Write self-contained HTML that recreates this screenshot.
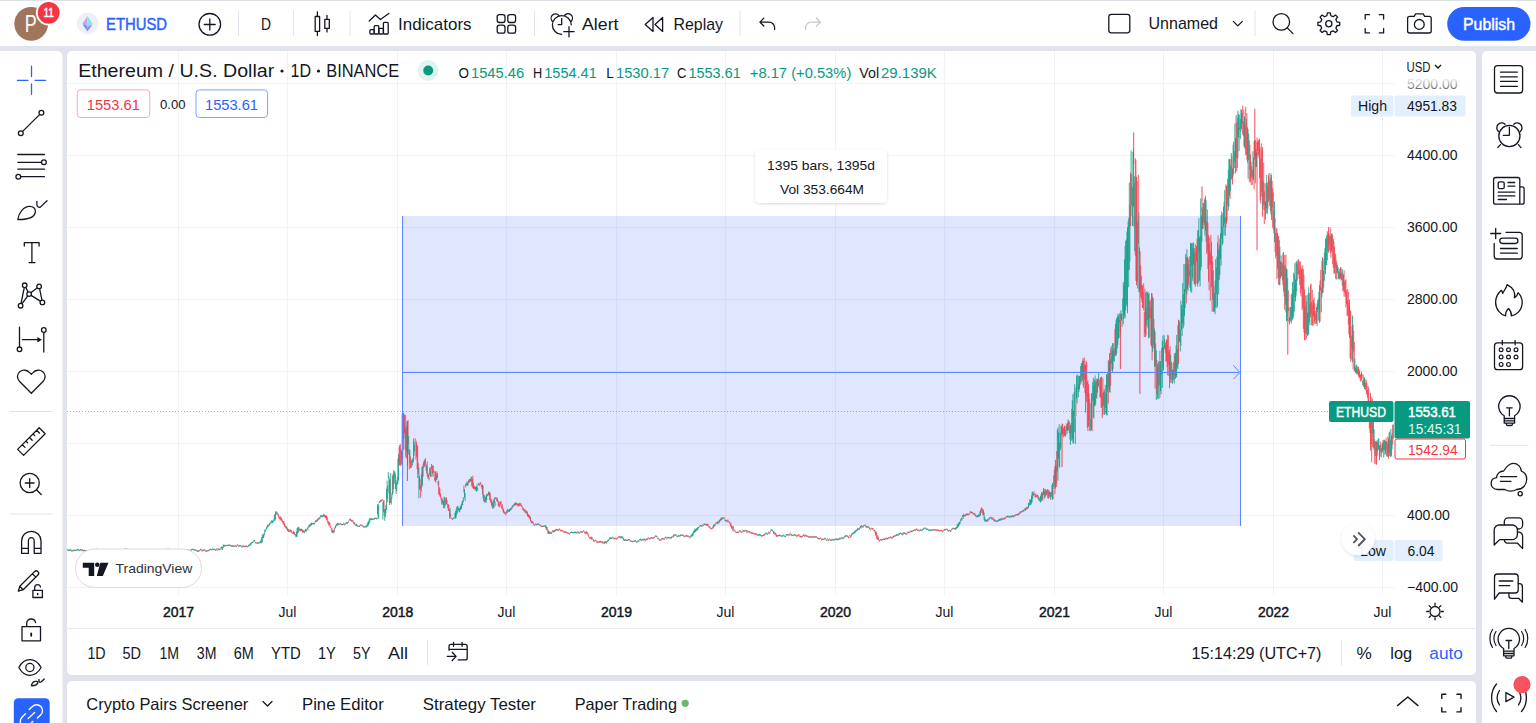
<!DOCTYPE html>
<html><head><meta charset="utf-8"><style>
html,body{margin:0;padding:0;width:1536px;height:723px;overflow:hidden;background:#e0e3eb}
svg{display:block;font-family:"Liberation Sans", sans-serif}
</style></head><body>
<svg width="1536" height="723" viewBox="0 0 1536 723" fill="none">
<defs><linearGradient id="fade" x1="0" y1="0" x2="0" y2="1"><stop offset="0" stop-color="#fff" stop-opacity="0.95"/><stop offset="1" stop-color="#fff" stop-opacity="0.3"/></linearGradient><filter id="sh" x="-20%" y="-30%" width="140%" height="160%"><feDropShadow dx="0" dy="1" stdDeviation="1.5" flood-color="#000" flood-opacity="0.15"/></filter></defs>
<rect x="0" y="0" width="1536" height="723" fill="#e0e3eb"/>
<rect x="0" y="0" width="1536" height="46" fill="#ffffff"/>
<rect x="0" y="0" width="1536" height="1" fill="#dde0e4"/>
<path d="M0 51H57.5a5 5 0 0 1 5 5V723H0Z" fill="#fff"/>
<rect x="67" y="51" width="1409" height="624" rx="5" fill="#fff"/>
<path d="M72 681H1471a5 5 0 0 1 5 5V723H67V686a5 5 0 0 1 5-5Z" fill="#fff"/>
<path d="M1487 51H1536V723H1482V56a5 5 0 0 1 5-5Z" fill="#fff"/>
<path d="M67 83.5H1394.5M67 155.5H1394.5M67 227.5H1394.5M67 299.5H1394.5M67 371.5H1394.5M67 443.5H1394.5M67 515.5H1394.5M67 587.5H1394.5M178.5 51V588M178.5 588V595M287.5 51V588M287.5 588V595M397.5 51V588M397.5 588V595M506.5 51V588M506.5 588V595M616.5 51V588M616.5 588V595M725.5 51V588M725.5 588V595M835.5 51V588M835.5 588V595M944.5 51V588M944.5 588V595M1054.5 51V588M1054.5 588V595M1163.5 51V588M1163.5 588V595M1273.5 51V588M1273.5 588V595M1382.5 51V588M1382.5 588V595" stroke="#f1f2f3" stroke-width="1" fill="none"/>
<rect x="67" y="628" width="1409" height="1" fill="#e8eaef"/>
<rect x="402" y="216" width="838.5" height="310" fill="#4a6cf7" fill-opacity="0.17"/>
<path d="M67.3 549.5V550.7M67.9 549.3V550.5" stroke="#f23645" stroke-width="0.8"/>
<path d="M68.5 549.8V551.0M69.1 549.8V551.0" stroke="#089981" stroke-width="0.8"/>
<path d="M69.7 549.6V550.8" stroke="#f23645" stroke-width="0.8"/>
<path d="M70.3 549.6V550.8M70.9 548.8V550.0M71.5 550.2V551.4" stroke="#089981" stroke-width="0.8"/>
<path d="M72.1 550.2V551.4M72.7 550.2V551.4" stroke="#f23645" stroke-width="0.8"/>
<path d="M73.3 550.3V551.5" stroke="#089981" stroke-width="0.8"/>
<path d="M73.9 549.4V550.6" stroke="#f23645" stroke-width="0.8"/>
<path d="M74.5 549.7V550.9M75.1 549.7V550.9" stroke="#089981" stroke-width="0.8"/>
<path d="M75.7 549.9V551.1M76.3 549.3V550.5" stroke="#f23645" stroke-width="0.8"/>
<path d="M76.9 550.0V551.2" stroke="#089981" stroke-width="0.8"/>
<path d="M77.5 548.8V550.0" stroke="#f23645" stroke-width="0.8"/>
<path d="M78.1 549.5V550.7M78.7 548.9V550.1M79.3 549.8V551.0" stroke="#089981" stroke-width="0.8"/>
<path d="M79.9 550.2V551.4M80.5 549.1V550.3" stroke="#f23645" stroke-width="0.8"/>
<path d="M81.1 549.0V550.2M81.7 549.7V550.9M82.3 549.3V550.5M82.9 550.0V551.2" stroke="#089981" stroke-width="0.8"/>
<path d="M83.5 550.2V551.4M84.1 549.9V551.1M84.7 549.7V550.9" stroke="#f23645" stroke-width="0.8"/>
<path d="M85.3 550.2V551.4M85.9 550.3V551.5M86.5 550.3V551.5" stroke="#089981" stroke-width="0.8"/>
<path d="M87.1 550.1V551.3" stroke="#f23645" stroke-width="0.8"/>
<path d="M87.7 550.0V551.2" stroke="#089981" stroke-width="0.8"/>
<path d="M88.3 550.7V551.9" stroke="#f23645" stroke-width="0.8"/>
<path d="M88.9 550.4V551.6M89.5 550.5V551.7" stroke="#089981" stroke-width="0.8"/>
<path d="M90.1 550.2V551.4M90.7 549.8V551.0" stroke="#f23645" stroke-width="0.8"/>
<path d="M91.3 549.7V550.9" stroke="#089981" stroke-width="0.8"/>
<path d="M91.9 550.2V551.4M92.5 550.4V551.6M93.1 549.1V550.3" stroke="#f23645" stroke-width="0.8"/>
<path d="M93.7 549.1V550.3" stroke="#089981" stroke-width="0.8"/>
<path d="M94.3 549.3V550.5M94.9 550.9V552.1" stroke="#f23645" stroke-width="0.8"/>
<path d="M95.5 549.8V551.0" stroke="#089981" stroke-width="0.8"/>
<path d="M96.1 548.9V550.1M96.7 548.6V549.8M97.3 549.8V551.0M97.9 549.1V550.3" stroke="#f23645" stroke-width="0.8"/>
<path d="M98.5 550.0V551.2M99.1 549.7V550.9M99.7 550.2V551.4" stroke="#089981" stroke-width="0.8"/>
<path d="M100.3 549.8V551.0M100.9 549.8V551.0M101.5 549.9V551.1" stroke="#f23645" stroke-width="0.8"/>
<path d="M102.1 550.1V551.3" stroke="#089981" stroke-width="0.8"/>
<path d="M102.7 549.4V550.6" stroke="#f23645" stroke-width="0.8"/>
<path d="M103.3 550.3V551.5" stroke="#089981" stroke-width="0.8"/>
<path d="M103.9 551.0V552.2M104.5 550.2V551.4" stroke="#f23645" stroke-width="0.8"/>
<path d="M105.1 549.9V551.1" stroke="#089981" stroke-width="0.8"/>
<path d="M105.7 550.4V551.6M106.3 550.5V551.7" stroke="#f23645" stroke-width="0.8"/>
<path d="M106.9 550.9V552.1" stroke="#089981" stroke-width="0.8"/>
<path d="M107.5 551.0V552.2M108.1 551.1V552.3M108.7 550.4V551.6M109.3 549.0V550.2" stroke="#f23645" stroke-width="0.8"/>
<path d="M109.9 549.5V550.7M110.5 549.8V551.0M111.1 549.3V550.5M111.7 549.9V551.1M112.3 548.8V550.0M112.9 549.3V550.5" stroke="#089981" stroke-width="0.8"/>
<path d="M113.5 550.9V552.1" stroke="#f23645" stroke-width="0.8"/>
<path d="M114.1 549.9V551.1M114.7 550.0V551.2" stroke="#089981" stroke-width="0.8"/>
<path d="M115.3 550.2V551.4M115.9 550.0V551.2" stroke="#f23645" stroke-width="0.8"/>
<path d="M116.5 550.5V551.7M117.1 550.4V551.6M117.7 550.6V551.8" stroke="#089981" stroke-width="0.8"/>
<path d="M118.3 549.9V551.1" stroke="#f23645" stroke-width="0.8"/>
<path d="M118.9 549.3V550.5" stroke="#089981" stroke-width="0.8"/>
<path d="M119.5 549.2V550.4" stroke="#f23645" stroke-width="0.8"/>
<path d="M120.1 550.5V551.7" stroke="#089981" stroke-width="0.8"/>
<path d="M120.7 550.6V551.8" stroke="#f23645" stroke-width="0.8"/>
<path d="M121.3 549.7V550.9M121.9 549.6V550.8" stroke="#089981" stroke-width="0.8"/>
<path d="M122.5 549.8V551.0" stroke="#f23645" stroke-width="0.8"/>
<path d="M123.1 549.3V550.5M123.7 549.2V550.4M124.3 549.1V550.3M124.9 548.2V549.4" stroke="#089981" stroke-width="0.8"/>
<path d="M125.5 548.8V550.0" stroke="#f23645" stroke-width="0.8"/>
<path d="M126.1 549.1V550.3M126.7 548.2V549.4M127.3 549.0V550.2" stroke="#089981" stroke-width="0.8"/>
<path d="M127.9 549.5V550.7" stroke="#f23645" stroke-width="0.8"/>
<path d="M128.5 549.3V550.5" stroke="#089981" stroke-width="0.8"/>
<path d="M129.1 550.0V551.2" stroke="#f23645" stroke-width="0.8"/>
<path d="M129.7 550.0V551.2M130.3 551.0V552.2M130.9 551.0V552.2M131.5 551.0V552.2" stroke="#089981" stroke-width="0.8"/>
<path d="M132.1 550.3V551.5M132.7 550.9V552.1M133.3 550.2V551.4M133.9 550.5V551.7M134.5 551.0V552.2M135.1 549.9V551.1M135.7 550.4V551.6M136.3 549.3V550.5" stroke="#f23645" stroke-width="0.8"/>
<path d="M136.9 549.5V550.7" stroke="#089981" stroke-width="0.8"/>
<path d="M137.5 550.1V551.3M138.1 550.0V551.2M138.7 549.9V551.1" stroke="#f23645" stroke-width="0.8"/>
<path d="M139.3 549.7V550.9M139.9 549.6V550.8M140.5 549.2V550.4" stroke="#089981" stroke-width="0.8"/>
<path d="M141.1 549.4V550.6M141.7 549.6V550.8" stroke="#f23645" stroke-width="0.8"/>
<path d="M142.3 550.1V551.3" stroke="#089981" stroke-width="0.8"/>
<path d="M142.9 549.5V550.7" stroke="#f23645" stroke-width="0.8"/>
<path d="M143.5 549.0V550.2" stroke="#089981" stroke-width="0.8"/>
<path d="M144.1 549.4V550.6" stroke="#f23645" stroke-width="0.8"/>
<path d="M144.7 549.4V550.6M145.3 549.2V550.4" stroke="#089981" stroke-width="0.8"/>
<path d="M145.9 549.5V550.7M146.5 549.9V551.1M147.1 549.9V551.1" stroke="#f23645" stroke-width="0.8"/>
<path d="M147.7 549.9V551.1M148.3 549.7V550.9M148.9 549.3V550.5M149.5 550.5V551.7M150.1 550.6V551.8" stroke="#089981" stroke-width="0.8"/>
<path d="M150.7 550.3V551.5" stroke="#f23645" stroke-width="0.8"/>
<path d="M151.3 550.0V551.2" stroke="#089981" stroke-width="0.8"/>
<path d="M151.9 550.1V551.3" stroke="#f23645" stroke-width="0.8"/>
<path d="M152.5 549.6V550.8" stroke="#089981" stroke-width="0.8"/>
<path d="M153.1 549.8V551.0M153.7 550.5V551.7" stroke="#f23645" stroke-width="0.8"/>
<path d="M154.3 550.1V551.3" stroke="#089981" stroke-width="0.8"/>
<path d="M154.9 549.9V551.1" stroke="#f23645" stroke-width="0.8"/>
<path d="M155.5 550.0V551.2" stroke="#089981" stroke-width="0.8"/>
<path d="M156.1 550.5V551.7" stroke="#f23645" stroke-width="0.8"/>
<path d="M156.7 550.2V551.4M157.3 550.1V551.3" stroke="#089981" stroke-width="0.8"/>
<path d="M157.9 551.5V552.7" stroke="#f23645" stroke-width="0.8"/>
<path d="M158.5 550.8V552.0M159.1 550.6V551.8M159.7 550.6V551.8M160.3 549.8V551.0" stroke="#089981" stroke-width="0.8"/>
<path d="M160.9 549.9V551.1" stroke="#f23645" stroke-width="0.8"/>
<path d="M161.5 550.1V551.3" stroke="#089981" stroke-width="0.8"/>
<path d="M162.1 549.4V550.6" stroke="#f23645" stroke-width="0.8"/>
<path d="M162.7 550.0V551.2" stroke="#089981" stroke-width="0.8"/>
<path d="M163.3 550.5V551.7M163.9 549.8V551.0" stroke="#f23645" stroke-width="0.8"/>
<path d="M164.5 550.3V551.5" stroke="#089981" stroke-width="0.8"/>
<path d="M165.1 550.1V551.3" stroke="#f23645" stroke-width="0.8"/>
<path d="M165.7 549.5V550.7" stroke="#089981" stroke-width="0.8"/>
<path d="M166.3 548.8V550.0" stroke="#f23645" stroke-width="0.8"/>
<path d="M166.9 549.2V550.4" stroke="#089981" stroke-width="0.8"/>
<path d="M167.5 549.0V550.2" stroke="#f23645" stroke-width="0.8"/>
<path d="M168.1 548.3V549.5M168.7 548.9V550.1" stroke="#089981" stroke-width="0.8"/>
<path d="M169.3 549.8V551.0" stroke="#f23645" stroke-width="0.8"/>
<path d="M169.9 549.6V550.8M170.5 549.7V550.9M171.1 549.8V551.0M171.7 550.0V551.2M172.3 550.1V551.3" stroke="#089981" stroke-width="0.8"/>
<path d="M172.9 549.7V550.9" stroke="#f23645" stroke-width="0.8"/>
<path d="M173.5 549.8V551.0M174.1 549.5V550.7M174.7 550.6V551.8M175.3 550.9V552.1M175.9 550.9V552.1" stroke="#089981" stroke-width="0.8"/>
<path d="M176.5 551.4V552.6" stroke="#f23645" stroke-width="0.8"/>
<path d="M177.1 550.4V551.6" stroke="#089981" stroke-width="0.8"/>
<path d="M177.7 550.4V551.6" stroke="#f23645" stroke-width="0.8"/>
<path d="M178.3 549.9V551.1" stroke="#089981" stroke-width="0.8"/>
<path d="M178.9 549.6V550.8" stroke="#f23645" stroke-width="0.8"/>
<path d="M179.5 550.6V551.8M180.1 550.6V551.8" stroke="#089981" stroke-width="0.8"/>
<path d="M180.7 549.7V550.9" stroke="#f23645" stroke-width="0.8"/>
<path d="M181.3 549.8V551.0M181.9 549.9V551.1" stroke="#089981" stroke-width="0.8"/>
<path d="M182.5 549.9V551.1" stroke="#f23645" stroke-width="0.8"/>
<path d="M183.1 549.9V551.1M183.7 549.9V551.1" stroke="#089981" stroke-width="0.8"/>
<path d="M184.3 550.4V551.6" stroke="#f23645" stroke-width="0.8"/>
<path d="M184.9 550.5V551.7" stroke="#089981" stroke-width="0.8"/>
<path d="M185.5 550.5V551.7M186.1 549.5V550.7M186.7 550.1V551.3" stroke="#f23645" stroke-width="0.8"/>
<path d="M187.3 549.6V550.8M187.9 549.5V550.7M188.5 549.7V550.9" stroke="#089981" stroke-width="0.8"/>
<path d="M189.1 549.8V551.0" stroke="#f23645" stroke-width="0.8"/>
<path d="M189.7 549.9V551.1M190.3 550.1V551.3" stroke="#089981" stroke-width="0.8"/>
<path d="M190.9 549.4V550.6" stroke="#f23645" stroke-width="0.8"/>
<path d="M191.5 549.0V550.2" stroke="#089981" stroke-width="0.8"/>
<path d="M192.1 548.8V550.0" stroke="#f23645" stroke-width="0.8"/>
<path d="M192.7 548.8V550.0M193.3 549.0V550.2M193.9 548.9V550.1M194.5 549.4V550.6" stroke="#089981" stroke-width="0.8"/>
<path d="M195.1 549.5V550.7M195.7 549.6V550.8" stroke="#f23645" stroke-width="0.8"/>
<path d="M196.3 550.1V551.3" stroke="#089981" stroke-width="0.8"/>
<path d="M196.9 549.8V551.0M197.5 550.7V551.9" stroke="#f23645" stroke-width="0.8"/>
<path d="M198.1 550.5V551.7M198.7 550.6V551.8M199.3 550.0V551.2" stroke="#089981" stroke-width="0.8"/>
<path d="M199.9 549.9V551.1M200.5 548.8V550.0M201.1 549.4V550.6" stroke="#f23645" stroke-width="0.8"/>
<path d="M201.7 549.1V550.3M202.3 550.4V551.6" stroke="#089981" stroke-width="0.8"/>
<path d="M202.9 550.0V551.2M203.5 549.7V550.9" stroke="#f23645" stroke-width="0.8"/>
<path d="M204.1 549.2V550.4" stroke="#089981" stroke-width="0.8"/>
<path d="M204.7 549.4V550.6" stroke="#f23645" stroke-width="0.8"/>
<path d="M205.3 550.4V551.6M205.9 550.2V551.4" stroke="#089981" stroke-width="0.8"/>
<path d="M206.5 550.7V551.9" stroke="#f23645" stroke-width="0.8"/>
<path d="M207.1 550.5V551.7" stroke="#089981" stroke-width="0.8"/>
<path d="M207.7 550.1V551.3M208.3 550.0V551.2" stroke="#f23645" stroke-width="0.8"/>
<path d="M208.9 549.7V550.9M209.5 549.3V550.5M210.1 548.7V549.9" stroke="#089981" stroke-width="0.8"/>
<path d="M210.7 549.0V550.2M211.3 549.0V550.2M211.9 549.0V550.2" stroke="#f23645" stroke-width="0.8"/>
<path d="M212.5 548.4V549.6M213.1 549.0V550.2" stroke="#089981" stroke-width="0.8"/>
<path d="M213.7 548.8V550.0" stroke="#f23645" stroke-width="0.8"/>
<path d="M214.3 548.8V550.0M214.9 549.1V550.3M215.5 549.6V550.8" stroke="#089981" stroke-width="0.8"/>
<path d="M216.1 549.2V550.4" stroke="#f23645" stroke-width="0.8"/>
<path d="M216.7 548.4V549.6" stroke="#089981" stroke-width="0.8"/>
<path d="M217.3 549.6V550.8M217.9 548.1V549.3M218.5 548.9V550.1" stroke="#f23645" stroke-width="0.8"/>
<path d="M219.1 548.6V549.8" stroke="#089981" stroke-width="0.8"/>
<path d="M219.7 549.0V550.2M220.3 548.6V549.8" stroke="#f23645" stroke-width="0.8"/>
<path d="M220.9 547.4V548.6" stroke="#089981" stroke-width="0.8"/>
<path d="M221.5 546.6V548.2" stroke="#f23645" stroke-width="0.8"/>
<path d="M222.1 546.9V550.1M222.7 546.6V549.5M223.3 544.8V547.7M223.9 544.3V546.6M224.5 545.1V546.4M225.1 545.0V546.2" stroke="#089981" stroke-width="0.8"/>
<path d="M225.7 545.0V546.2M226.3 544.8V546.0M226.9 544.8V546.0M227.5 545.1V546.3" stroke="#f23645" stroke-width="0.8"/>
<path d="M228.1 544.8V546.0M228.7 544.7V545.9" stroke="#089981" stroke-width="0.8"/>
<path d="M229.3 544.7V545.9M229.9 544.5V545.7M230.5 545.1V546.3" stroke="#f23645" stroke-width="0.8"/>
<path d="M231.1 545.6V546.8" stroke="#089981" stroke-width="0.8"/>
<path d="M231.7 545.2V546.4M232.3 545.1V546.3" stroke="#f23645" stroke-width="0.8"/>
<path d="M232.9 545.8V547.0" stroke="#089981" stroke-width="0.8"/>
<path d="M233.5 545.3V546.5" stroke="#f23645" stroke-width="0.8"/>
<path d="M234.1 545.8V547.0" stroke="#089981" stroke-width="0.8"/>
<path d="M234.7 545.5V546.7" stroke="#f23645" stroke-width="0.8"/>
<path d="M235.3 545.1V546.3" stroke="#089981" stroke-width="0.8"/>
<path d="M235.9 545.6V546.8M236.5 545.7V546.9" stroke="#f23645" stroke-width="0.8"/>
<path d="M237.1 544.7V545.9" stroke="#089981" stroke-width="0.8"/>
<path d="M237.7 544.2V545.4" stroke="#f23645" stroke-width="0.8"/>
<path d="M238.3 545.5V546.7M238.9 545.5V546.7M239.5 545.0V546.2" stroke="#089981" stroke-width="0.8"/>
<path d="M240.1 544.9V546.1" stroke="#f23645" stroke-width="0.8"/>
<path d="M240.7 545.4V546.6" stroke="#089981" stroke-width="0.8"/>
<path d="M241.3 545.4V546.6M241.9 546.5V547.7" stroke="#f23645" stroke-width="0.8"/>
<path d="M242.5 546.0V547.2M243.1 544.8V546.0M243.7 546.0V547.2" stroke="#089981" stroke-width="0.8"/>
<path d="M244.3 545.9V547.1M244.9 545.9V547.1M245.5 546.0V547.2M246.1 545.2V546.4M246.7 545.9V547.1" stroke="#f23645" stroke-width="0.8"/>
<path d="M247.3 545.9V547.2" stroke="#089981" stroke-width="0.8"/>
<path d="M247.9 546.1V547.3" stroke="#f23645" stroke-width="0.8"/>
<path d="M248.5 544.9V546.7M249.1 544.8V546.0M249.7 544.0V545.5M250.3 543.1V545.4M250.9 542.8V545.5" stroke="#089981" stroke-width="0.8"/>
<path d="M251.5 542.0V543.7M252.1 541.8V543.2" stroke="#f23645" stroke-width="0.8"/>
<path d="M252.7 541.9V543.1M253.3 541.1V542.3" stroke="#089981" stroke-width="0.8"/>
<path d="M253.9 540.0V541.2" stroke="#f23645" stroke-width="0.8"/>
<path d="M254.5 540.0V541.2M255.1 541.3V542.6M255.7 542.1V543.3" stroke="#089981" stroke-width="0.8"/>
<path d="M256.3 542.5V543.7M256.9 541.9V543.1" stroke="#f23645" stroke-width="0.8"/>
<path d="M257.5 542.6V543.8M258.1 542.6V543.8M258.7 542.2V543.5M259.3 542.4V543.6" stroke="#089981" stroke-width="0.8"/>
<path d="M259.9 541.4V542.6" stroke="#f23645" stroke-width="0.8"/>
<path d="M260.5 541.0V543.2M261.1 539.1V542.6M261.7 537.0V543.3M262.3 535.2V542.2M262.9 533.7V537.8M263.5 534.5V538.3" stroke="#089981" stroke-width="0.8"/>
<path d="M264.1 533.5V536.5" stroke="#f23645" stroke-width="0.8"/>
<path d="M264.7 529.7V534.5M265.3 529.9V531.9M265.9 528.7V529.9M266.5 527.1V529.5M267.1 526.0V528.3M267.7 524.6V527.4" stroke="#089981" stroke-width="0.8"/>
<path d="M268.3 524.9V526.5" stroke="#f23645" stroke-width="0.8"/>
<path d="M268.9 524.3V526.9M269.5 523.2V525.2M270.1 523.4V524.7M270.7 522.0V523.6M271.3 520.9V523.2M271.9 519.9V522.3M272.5 521.0V523.0M273.1 520.2V522.8M273.7 519.5V520.8M274.3 514.6V520.7M274.9 514.4V520.8" stroke="#089981" stroke-width="0.8"/>
<path d="M275.5 511.5V519.6" stroke="#f23645" stroke-width="0.8"/>
<path d="M276.1 511.1V514.6M276.7 512.1V514.2" stroke="#089981" stroke-width="0.8"/>
<path d="M277.3 512.5V514.5M277.9 513.6V515.9M278.5 514.5V516.8M279.1 515.6V518.7M279.7 517.0V519.3M280.3 516.3V520.4M280.9 517.1V520.4M281.5 518.2V520.6M282.1 519.4V522.3M282.7 520.6V522.9M283.3 521.6V524.5M283.9 521.0V525.0M284.5 523.1V526.8M285.1 524.4V525.7M285.7 525.6V527.9" stroke="#f23645" stroke-width="0.8"/>
<path d="M286.3 526.0V528.7" stroke="#089981" stroke-width="0.8"/>
<path d="M286.9 527.0V529.9M287.5 528.3V530.9M288.1 528.7V531.4M288.7 529.4V532.0M289.3 529.5V531.7" stroke="#f23645" stroke-width="0.8"/>
<path d="M289.9 530.7V531.9M290.5 529.6V531.7" stroke="#089981" stroke-width="0.8"/>
<path d="M291.1 529.7V532.4M291.7 530.5V532.9M292.3 532.2V533.5M292.9 532.4V533.6M293.5 530.9V534.0M294.1 531.7V534.6M294.7 532.2V534.9" stroke="#f23645" stroke-width="0.8"/>
<path d="M295.3 534.0V536.1M295.9 535.3V537.3M296.5 531.3V536.6M297.1 528.1V537.0M297.7 527.5V533.3M298.3 526.8V532.8M298.9 527.3V530.8M299.5 528.7V530.3" stroke="#089981" stroke-width="0.8"/>
<path d="M300.1 528.8V531.3M300.7 528.8V531.2M301.3 528.6V531.2" stroke="#f23645" stroke-width="0.8"/>
<path d="M301.9 529.0V530.4" stroke="#089981" stroke-width="0.8"/>
<path d="M302.5 529.7V532.5" stroke="#f23645" stroke-width="0.8"/>
<path d="M303.1 529.9V532.5" stroke="#089981" stroke-width="0.8"/>
<path d="M303.7 530.8V532.1" stroke="#f23645" stroke-width="0.8"/>
<path d="M304.3 530.6V533.3" stroke="#089981" stroke-width="0.8"/>
<path d="M304.9 530.4V531.8" stroke="#f23645" stroke-width="0.8"/>
<path d="M305.5 528.7V531.0M306.1 529.7V532.3M306.7 529.2V530.7M307.3 527.8V529.4" stroke="#089981" stroke-width="0.8"/>
<path d="M307.9 526.8V530.3" stroke="#f23645" stroke-width="0.8"/>
<path d="M308.5 525.9V527.4M309.1 524.7V526.4M309.7 524.6V527.4" stroke="#089981" stroke-width="0.8"/>
<path d="M310.3 523.4V526.2" stroke="#f23645" stroke-width="0.8"/>
<path d="M310.9 524.1V525.9M311.5 522.6V525.1M312.1 523.1V524.7M312.7 522.9V524.1M313.3 522.9V524.4M313.9 522.6V524.4M314.5 523.0V524.4" stroke="#089981" stroke-width="0.8"/>
<path d="M315.1 521.0V522.3M315.7 520.3V522.2" stroke="#f23645" stroke-width="0.8"/>
<path d="M316.3 520.2V522.3M316.9 519.6V521.1M317.5 519.1V521.3" stroke="#089981" stroke-width="0.8"/>
<path d="M318.1 518.0V519.2M318.7 517.8V520.0M319.3 517.3V519.4M319.9 516.7V518.9" stroke="#f23645" stroke-width="0.8"/>
<path d="M320.5 515.4V516.9M321.1 515.5V517.5M321.7 515.1V516.9M322.3 515.0V517.1M322.9 515.6V516.8M323.5 514.1V516.4M324.1 514.5V516.1" stroke="#089981" stroke-width="0.8"/>
<path d="M324.7 514.7V517.2M325.3 515.4V518.1M325.9 515.0V518.3M326.5 515.8V520.4M327.1 516.9V518.9M327.7 518.2V523.0M328.3 521.2V524.5M328.9 521.5V525.9" stroke="#f23645" stroke-width="0.8"/>
<path d="M329.5 522.5V524.9" stroke="#089981" stroke-width="0.8"/>
<path d="M330.1 523.7V527.3M330.7 526.1V528.1M331.3 528.4V530.6M331.9 527.8V532.6" stroke="#f23645" stroke-width="0.8"/>
<path d="M332.5 530.4V533.0M333.1 530.9V532.1" stroke="#089981" stroke-width="0.8"/>
<path d="M333.7 529.6V533.3M334.3 528.4V532.1" stroke="#f23645" stroke-width="0.8"/>
<path d="M334.9 527.1V528.9M335.5 525.6V528.1M336.1 524.5V526.4M336.7 523.7V525.8M337.3 523.1V525.8" stroke="#089981" stroke-width="0.8"/>
<path d="M337.9 522.8V525.1" stroke="#f23645" stroke-width="0.8"/>
<path d="M338.5 523.4V524.8" stroke="#089981" stroke-width="0.8"/>
<path d="M339.1 523.6V524.9M339.7 523.6V524.8" stroke="#f23645" stroke-width="0.8"/>
<path d="M340.3 522.7V523.9M340.9 523.6V524.8M341.5 523.9V525.1M342.1 523.9V525.2" stroke="#089981" stroke-width="0.8"/>
<path d="M342.7 524.0V525.3" stroke="#f23645" stroke-width="0.8"/>
<path d="M343.3 523.8V525.0M343.9 522.7V523.9M344.5 524.2V525.4M345.1 523.6V524.8" stroke="#089981" stroke-width="0.8"/>
<path d="M345.7 522.7V524.2" stroke="#f23645" stroke-width="0.8"/>
<path d="M346.3 522.1V523.3" stroke="#089981" stroke-width="0.8"/>
<path d="M346.9 521.9V524.0" stroke="#f23645" stroke-width="0.8"/>
<path d="M347.5 522.3V523.6M348.1 521.9V523.1M348.7 520.8V522.0" stroke="#089981" stroke-width="0.8"/>
<path d="M349.3 519.2V520.5" stroke="#f23645" stroke-width="0.8"/>
<path d="M349.9 518.6V520.2" stroke="#089981" stroke-width="0.8"/>
<path d="M350.5 518.9V520.6M351.1 519.8V521.3M351.7 519.7V521.6M352.3 520.2V521.7" stroke="#f23645" stroke-width="0.8"/>
<path d="M352.9 520.3V522.0" stroke="#089981" stroke-width="0.8"/>
<path d="M353.5 521.7V523.7M354.1 523.4V524.7M354.7 522.0V524.3M355.3 524.6V525.8" stroke="#f23645" stroke-width="0.8"/>
<path d="M355.9 523.8V525.6M356.5 524.0V526.1M357.1 524.7V526.2" stroke="#089981" stroke-width="0.8"/>
<path d="M357.7 525.7V526.9" stroke="#f23645" stroke-width="0.8"/>
<path d="M358.3 525.8V527.0" stroke="#089981" stroke-width="0.8"/>
<path d="M358.9 525.9V527.1" stroke="#f23645" stroke-width="0.8"/>
<path d="M359.5 525.6V526.8M360.1 524.6V525.8M360.7 524.6V525.8" stroke="#089981" stroke-width="0.8"/>
<path d="M361.3 524.5V525.7M361.9 525.0V526.2" stroke="#f23645" stroke-width="0.8"/>
<path d="M362.5 525.2V526.4" stroke="#089981" stroke-width="0.8"/>
<path d="M363.1 525.8V527.1M363.7 526.4V527.6" stroke="#f23645" stroke-width="0.8"/>
<path d="M364.3 526.3V527.6M364.9 526.0V527.2M365.5 525.7V526.9" stroke="#089981" stroke-width="0.8"/>
<path d="M366.1 526.6V527.8" stroke="#f23645" stroke-width="0.8"/>
<path d="M366.7 525.0V527.3M367.3 523.4V526.4M367.9 521.8V526.6M368.5 521.5V525.1M369.1 519.5V523.5M369.7 518.2V523.2M370.3 518.2V520.3M370.9 518.3V520.2M371.5 518.5V520.1M372.1 518.2V519.4M372.7 518.8V520.0M373.3 518.4V519.6M373.9 518.7V519.9M374.5 517.9V519.2" stroke="#089981" stroke-width="0.8"/>
<path d="M375.1 517.7V519.0" stroke="#f23645" stroke-width="0.8"/>
<path d="M375.7 517.8V519.0M376.3 517.7V518.9M376.9 518.4V519.6M377.5 504.3V514.4M378.1 505.8V519.1M378.7 503.5V518.3" stroke="#089981" stroke-width="0.8"/>
<path d="M379.3 500.9V502.9" stroke="#f23645" stroke-width="0.8"/>
<path d="M379.9 501.3V502.5" stroke="#089981" stroke-width="0.8"/>
<path d="M380.5 500.5V502.1" stroke="#f23645" stroke-width="0.8"/>
<path d="M381.1 499.6V501.8" stroke="#089981" stroke-width="0.8"/>
<path d="M381.7 499.8V501.3M382.3 499.2V500.9" stroke="#f23645" stroke-width="0.8"/>
<path d="M382.9 502.0V519.6" stroke="#089981" stroke-width="0.8"/>
<path d="M383.5 500.5V511.9M384.1 500.2V515.2" stroke="#f23645" stroke-width="0.8"/>
<path d="M384.7 509.3V520.7M385.3 508.8V517.0M385.9 504.8V513.6M386.5 488.8V510.1M387.1 480.6V498.5M387.7 485.7V502.3M388.3 472.2V478.6M388.9 476.2V493.3" stroke="#089981" stroke-width="0.8"/>
<path d="M389.5 479.3V505.0M390.1 479.4V503.1" stroke="#f23645" stroke-width="0.8"/>
<path d="M390.7 473.0V503.0" stroke="#089981" stroke-width="0.8"/>
<path d="M391.3 497.1V504.7" stroke="#f23645" stroke-width="0.8"/>
<path d="M391.9 493.3V498.5M392.5 475.5V494.9" stroke="#089981" stroke-width="0.8"/>
<path d="M393.1 473.6V493.3" stroke="#f23645" stroke-width="0.8"/>
<path d="M393.7 470.3V489.1M394.3 471.2V483.8M394.9 471.8V477.9" stroke="#089981" stroke-width="0.8"/>
<path d="M395.5 474.2V489.3" stroke="#f23645" stroke-width="0.8"/>
<path d="M396.1 480.2V494.0M396.7 482.8V491.4M397.3 477.0V484.4M397.9 458.7V484.3M398.5 454.1V480.6" stroke="#089981" stroke-width="0.8"/>
<path d="M399.1 447.1V464.7" stroke="#f23645" stroke-width="0.8"/>
<path d="M399.7 445.0V465.5" stroke="#089981" stroke-width="0.8"/>
<path d="M400.3 444.1V466.4M400.9 448.7V464.2M401.5 450.9V464.8" stroke="#f23645" stroke-width="0.8"/>
<path d="M402.1 413.7V459.1M402.7 411.6V458.1M403.3 413.0V449.7M403.9 413.2V439.0" stroke="#089981" stroke-width="0.8"/>
<path d="M404.5 415.0V433.6M405.1 428.4V450.1M405.7 415.1V456.9M406.3 426.9V458.4" stroke="#f23645" stroke-width="0.8"/>
<path d="M406.9 421.4V452.5" stroke="#089981" stroke-width="0.8"/>
<path d="M407.5 420.8V464.9M408.1 420.2V444.2" stroke="#f23645" stroke-width="0.8"/>
<path d="M408.7 435.9V454.6" stroke="#089981" stroke-width="0.8"/>
<path d="M409.3 449.4V469.4" stroke="#f23645" stroke-width="0.8"/>
<path d="M409.9 449.9V463.4" stroke="#089981" stroke-width="0.8"/>
<path d="M410.5 456.6V468.1M411.1 464.2V468.0" stroke="#f23645" stroke-width="0.8"/>
<path d="M411.7 459.9V466.6M412.3 459.1V465.3M412.9 457.9V463.2M413.5 438.5V461.5M414.1 445.0V455.8M414.7 441.4V451.2" stroke="#089981" stroke-width="0.8"/>
<path d="M415.3 438.2V440.7M415.9 440.1V459.5M416.5 442.2V456.7M417.1 444.7V469.1M417.7 445.9V478.1M418.3 463.1V473.6" stroke="#f23645" stroke-width="0.8"/>
<path d="M418.9 467.7V498.3" stroke="#089981" stroke-width="0.8"/>
<path d="M419.5 475.7V489.6M420.1 478.9V488.8M420.7 485.6V497.7M421.3 474.2V491.5" stroke="#f23645" stroke-width="0.8"/>
<path d="M421.9 466.8V487.3M422.5 466.4V485.3" stroke="#089981" stroke-width="0.8"/>
<path d="M423.1 463.7V476.5" stroke="#f23645" stroke-width="0.8"/>
<path d="M423.7 461.7V467.8M424.3 460.1V466.6" stroke="#089981" stroke-width="0.8"/>
<path d="M424.9 459.5V466.6M425.5 458.2V464.8M426.1 464.3V470.8" stroke="#f23645" stroke-width="0.8"/>
<path d="M426.7 465.6V473.5" stroke="#089981" stroke-width="0.8"/>
<path d="M427.3 461.6V476.8M427.9 472.6V478.9M428.5 474.5V477.8" stroke="#f23645" stroke-width="0.8"/>
<path d="M429.1 477.3V480.4" stroke="#089981" stroke-width="0.8"/>
<path d="M429.7 467.8V475.9M430.3 467.3V476.9" stroke="#f23645" stroke-width="0.8"/>
<path d="M430.9 469.4V477.2" stroke="#089981" stroke-width="0.8"/>
<path d="M431.5 464.0V469.0" stroke="#f23645" stroke-width="0.8"/>
<path d="M432.1 465.6V476.7" stroke="#089981" stroke-width="0.8"/>
<path d="M432.7 465.3V474.0M433.3 465.9V472.7M433.9 470.6V476.6M434.5 477.4V480.7M435.1 471.1V480.6" stroke="#f23645" stroke-width="0.8"/>
<path d="M435.7 471.7V482.8M436.3 474.8V480.2" stroke="#089981" stroke-width="0.8"/>
<path d="M436.9 471.3V479.9" stroke="#f23645" stroke-width="0.8"/>
<path d="M437.5 473.1V477.9M438.1 480.7V485.4" stroke="#089981" stroke-width="0.8"/>
<path d="M438.7 480.7V494.4M439.3 487.0V495.3M439.9 488.4V496.7M440.5 493.6V498.0M441.1 497.3V500.1M441.7 498.2V504.5M442.3 498.5V503.4" stroke="#f23645" stroke-width="0.8"/>
<path d="M442.9 499.9V505.0M443.5 501.2V508.1" stroke="#089981" stroke-width="0.8"/>
<path d="M444.1 496.7V504.6" stroke="#f23645" stroke-width="0.8"/>
<path d="M444.7 497.2V508.3M445.3 499.3V505.7" stroke="#089981" stroke-width="0.8"/>
<path d="M445.9 497.7V502.3M446.5 497.6V504.2" stroke="#f23645" stroke-width="0.8"/>
<path d="M447.1 500.5V504.6" stroke="#089981" stroke-width="0.8"/>
<path d="M447.7 504.1V508.1M448.3 504.1V510.9M448.9 505.0V511.0M449.5 509.7V518.6" stroke="#f23645" stroke-width="0.8"/>
<path d="M450.1 508.1V516.3" stroke="#089981" stroke-width="0.8"/>
<path d="M450.7 513.5V517.9M451.3 517.8V519.0M451.9 518.3V519.5" stroke="#f23645" stroke-width="0.8"/>
<path d="M452.5 518.4V519.6M453.1 518.0V519.2M453.7 517.3V518.5M454.3 517.5V518.7M454.9 512.9V517.2M455.5 511.3V518.6M456.1 509.6V518.1M456.7 507.3V515.0M457.3 505.9V513.3M457.9 506.2V508.9M458.5 507.9V510.5M459.1 509.1V511.9M459.7 507.8V512.4M460.3 505.8V510.0M460.9 505.6V509.7M461.5 503.9V508.9M462.1 501.5V505.4M462.7 500.4V505.4M463.3 497.3V502.0" stroke="#089981" stroke-width="0.8"/>
<path d="M463.9 485.5V492.5" stroke="#f23645" stroke-width="0.8"/>
<path d="M464.5 489.1V497.9M465.1 492.8V500.9M465.7 483.7V487.4" stroke="#089981" stroke-width="0.8"/>
<path d="M466.3 483.3V485.5" stroke="#f23645" stroke-width="0.8"/>
<path d="M466.9 481.6V485.7M467.5 482.5V485.4M468.1 481.3V485.5" stroke="#089981" stroke-width="0.8"/>
<path d="M468.7 479.9V482.6" stroke="#f23645" stroke-width="0.8"/>
<path d="M469.3 478.8V482.4M469.9 478.9V482.4" stroke="#089981" stroke-width="0.8"/>
<path d="M470.5 479.2V481.0" stroke="#f23645" stroke-width="0.8"/>
<path d="M471.1 476.6V481.4" stroke="#089981" stroke-width="0.8"/>
<path d="M471.7 477.0V485.9M472.3 478.7V487.4M472.9 475.7V488.3M473.5 482.5V489.0M474.1 486.3V489.1M474.7 485.8V489.6" stroke="#f23645" stroke-width="0.8"/>
<path d="M475.3 486.8V490.7M475.9 487.1V489.7M476.5 486.4V491.7M477.1 484.2V488.9M477.7 487.6V490.9M478.3 482.9V484.7" stroke="#089981" stroke-width="0.8"/>
<path d="M478.9 483.5V485.2M479.5 484.1V485.9" stroke="#f23645" stroke-width="0.8"/>
<path d="M480.1 482.3V483.6" stroke="#089981" stroke-width="0.8"/>
<path d="M480.7 482.3V484.9M481.3 484.9V487.0M481.9 484.8V488.9M482.5 484.5V494.6" stroke="#f23645" stroke-width="0.8"/>
<path d="M483.1 485.9V498.6" stroke="#089981" stroke-width="0.8"/>
<path d="M483.7 494.3V501.1" stroke="#f23645" stroke-width="0.8"/>
<path d="M484.3 495.0V502.4" stroke="#089981" stroke-width="0.8"/>
<path d="M484.9 499.2V502.4M485.5 496.8V501.4" stroke="#f23645" stroke-width="0.8"/>
<path d="M486.1 495.6V503.1M486.7 493.8V500.1M487.3 493.7V496.1M487.9 494.7V496.2" stroke="#089981" stroke-width="0.8"/>
<path d="M488.5 491.7V495.2" stroke="#f23645" stroke-width="0.8"/>
<path d="M489.1 491.9V495.3" stroke="#089981" stroke-width="0.8"/>
<path d="M489.7 491.9V499.9M490.3 493.4V501.4M490.9 498.3V503.2M491.5 500.0V505.6M492.1 501.7V507.2" stroke="#f23645" stroke-width="0.8"/>
<path d="M492.7 502.4V508.6" stroke="#089981" stroke-width="0.8"/>
<path d="M493.3 499.2V508.4" stroke="#f23645" stroke-width="0.8"/>
<path d="M493.9 501.0V508.0M494.5 497.4V502.7M495.1 501.7V506.3M495.7 497.1V499.1" stroke="#089981" stroke-width="0.8"/>
<path d="M496.3 498.5V500.2M496.9 497.2V501.5M497.5 498.5V502.1M498.1 502.7V505.7M498.7 500.8V506.4M499.3 503.8V507.5M499.9 501.7V504.4M500.5 502.1V504.7M501.1 501.1V507.0M501.7 505.8V508.5M502.3 504.2V509.3M502.9 507.7V511.5M503.5 509.0V512.7M504.1 510.8V513.4M504.7 512.2V514.1" stroke="#f23645" stroke-width="0.8"/>
<path d="M505.3 512.4V513.9" stroke="#089981" stroke-width="0.8"/>
<path d="M505.9 512.2V515.4" stroke="#f23645" stroke-width="0.8"/>
<path d="M506.5 511.2V512.7" stroke="#089981" stroke-width="0.8"/>
<path d="M507.1 509.9V513.2" stroke="#f23645" stroke-width="0.8"/>
<path d="M507.7 509.0V512.3M508.3 510.2V511.6M508.9 509.7V512.0M509.5 508.7V511.7M510.1 508.8V510.2M510.7 508.1V510.6M511.3 507.9V509.6" stroke="#089981" stroke-width="0.8"/>
<path d="M511.9 506.2V509.1" stroke="#f23645" stroke-width="0.8"/>
<path d="M512.5 505.6V507.2M513.1 505.4V507.4M513.7 504.1V505.8" stroke="#089981" stroke-width="0.8"/>
<path d="M514.3 503.6V505.7" stroke="#f23645" stroke-width="0.8"/>
<path d="M514.9 502.6V505.4M515.5 502.6V505.4" stroke="#089981" stroke-width="0.8"/>
<path d="M516.1 502.8V504.4M516.7 502.8V505.3M517.3 503.1V505.0" stroke="#f23645" stroke-width="0.8"/>
<path d="M517.9 504.0V506.6" stroke="#089981" stroke-width="0.8"/>
<path d="M518.5 503.6V506.1M519.1 503.4V506.3" stroke="#f23645" stroke-width="0.8"/>
<path d="M519.7 502.9V505.5" stroke="#089981" stroke-width="0.8"/>
<path d="M520.3 503.3V505.6M520.9 503.4V505.8M521.5 504.9V506.6M522.1 505.9V507.5M522.7 507.2V510.0M523.3 507.9V509.8M523.9 508.9V511.5M524.5 509.5V511.3" stroke="#f23645" stroke-width="0.8"/>
<path d="M525.1 509.2V512.7M525.7 511.1V513.4" stroke="#089981" stroke-width="0.8"/>
<path d="M526.3 510.4V512.4M526.9 511.2V514.5M527.5 511.9V516.1M528.1 514.0V517.1M528.7 514.2V517.3M529.3 515.1V518.1" stroke="#f23645" stroke-width="0.8"/>
<path d="M529.9 515.8V519.4" stroke="#089981" stroke-width="0.8"/>
<path d="M530.5 517.1V521.2M531.1 520.4V522.5M531.7 520.9V523.4M532.3 521.4V523.1M532.9 521.2V523.7M533.5 523.2V524.4M534.1 524.5V525.8" stroke="#f23645" stroke-width="0.8"/>
<path d="M534.7 524.3V525.5" stroke="#089981" stroke-width="0.8"/>
<path d="M535.3 523.7V524.9M535.9 523.6V524.8" stroke="#f23645" stroke-width="0.8"/>
<path d="M536.5 524.2V525.4" stroke="#089981" stroke-width="0.8"/>
<path d="M537.1 523.8V525.0" stroke="#f23645" stroke-width="0.8"/>
<path d="M537.7 523.7V524.9" stroke="#089981" stroke-width="0.8"/>
<path d="M538.3 523.3V524.5" stroke="#f23645" stroke-width="0.8"/>
<path d="M538.9 523.9V525.1M539.5 524.2V525.4" stroke="#089981" stroke-width="0.8"/>
<path d="M540.1 525.1V526.3M540.7 525.0V526.2M541.3 526.0V527.2M541.9 525.5V526.7" stroke="#f23645" stroke-width="0.8"/>
<path d="M542.5 525.7V526.9" stroke="#089981" stroke-width="0.8"/>
<path d="M543.1 525.8V527.0M543.7 525.7V526.9" stroke="#f23645" stroke-width="0.8"/>
<path d="M544.3 525.7V526.9" stroke="#089981" stroke-width="0.8"/>
<path d="M544.9 524.9V526.1M545.5 525.5V527.8" stroke="#f23645" stroke-width="0.8"/>
<path d="M546.1 525.6V529.4" stroke="#089981" stroke-width="0.8"/>
<path d="M546.7 526.9V529.7M547.3 527.2V530.8M547.9 529.7V533.8" stroke="#f23645" stroke-width="0.8"/>
<path d="M548.5 530.6V533.9M549.1 531.4V533.9" stroke="#089981" stroke-width="0.8"/>
<path d="M549.7 531.4V533.8M550.3 532.4V533.8M550.9 531.9V533.7" stroke="#f23645" stroke-width="0.8"/>
<path d="M551.5 532.7V533.9M552.1 531.5V532.7" stroke="#089981" stroke-width="0.8"/>
<path d="M552.7 530.0V531.7" stroke="#f23645" stroke-width="0.8"/>
<path d="M553.3 530.6V532.4M553.9 530.5V532.5" stroke="#089981" stroke-width="0.8"/>
<path d="M554.5 529.9V531.6" stroke="#f23645" stroke-width="0.8"/>
<path d="M555.1 530.2V531.4M555.7 529.2V531.2M556.3 529.1V530.6" stroke="#089981" stroke-width="0.8"/>
<path d="M556.9 529.1V530.3" stroke="#f23645" stroke-width="0.8"/>
<path d="M557.5 529.0V530.2M558.1 529.4V531.0" stroke="#089981" stroke-width="0.8"/>
<path d="M558.7 529.6V530.8M559.3 528.4V530.0" stroke="#f23645" stroke-width="0.8"/>
<path d="M559.9 529.0V530.2" stroke="#089981" stroke-width="0.8"/>
<path d="M560.5 530.1V531.3M561.1 529.8V531.0" stroke="#f23645" stroke-width="0.8"/>
<path d="M561.7 530.3V531.5" stroke="#089981" stroke-width="0.8"/>
<path d="M562.3 529.9V531.1M562.9 530.6V531.8M563.5 530.9V532.1" stroke="#f23645" stroke-width="0.8"/>
<path d="M564.1 531.5V532.8" stroke="#089981" stroke-width="0.8"/>
<path d="M564.7 531.5V532.8" stroke="#f23645" stroke-width="0.8"/>
<path d="M565.3 531.5V532.7" stroke="#089981" stroke-width="0.8"/>
<path d="M565.9 531.2V532.8M566.5 531.6V533.1M567.1 532.1V533.3M567.7 532.4V533.6" stroke="#f23645" stroke-width="0.8"/>
<path d="M568.3 532.7V533.9" stroke="#089981" stroke-width="0.8"/>
<path d="M568.9 532.6V533.8M569.5 533.6V534.8" stroke="#f23645" stroke-width="0.8"/>
<path d="M570.1 532.7V533.9M570.7 532.0V533.2" stroke="#089981" stroke-width="0.8"/>
<path d="M571.3 531.6V532.8" stroke="#f23645" stroke-width="0.8"/>
<path d="M571.9 531.9V533.1M572.5 532.0V533.2M573.1 532.0V533.2" stroke="#089981" stroke-width="0.8"/>
<path d="M573.7 532.2V533.4" stroke="#f23645" stroke-width="0.8"/>
<path d="M574.3 531.9V533.1M574.9 531.6V532.8M575.5 531.9V533.1M576.1 531.7V532.9" stroke="#089981" stroke-width="0.8"/>
<path d="M576.7 532.2V533.6M577.3 532.3V533.5M577.9 530.9V532.1" stroke="#f23645" stroke-width="0.8"/>
<path d="M578.5 531.9V533.1" stroke="#089981" stroke-width="0.8"/>
<path d="M579.1 532.6V533.8M579.7 532.5V533.7M580.3 531.3V532.5M580.9 531.6V532.8" stroke="#f23645" stroke-width="0.8"/>
<path d="M581.5 531.1V532.3M582.1 531.7V533.0M582.7 531.4V532.6" stroke="#089981" stroke-width="0.8"/>
<path d="M583.3 530.1V531.3M583.9 530.5V531.7M584.5 531.7V533.3M585.1 531.9V533.1" stroke="#f23645" stroke-width="0.8"/>
<path d="M585.7 532.4V534.1M586.3 531.2V533.2" stroke="#089981" stroke-width="0.8"/>
<path d="M586.9 531.7V534.4M587.5 532.5V534.1M588.1 533.4V535.7M588.7 534.9V536.9" stroke="#f23645" stroke-width="0.8"/>
<path d="M589.3 536.8V538.2" stroke="#089981" stroke-width="0.8"/>
<path d="M589.9 537.6V539.3M590.5 537.1V538.7M591.1 536.7V538.8M591.7 536.7V539.7M592.3 537.4V538.6" stroke="#f23645" stroke-width="0.8"/>
<path d="M592.9 538.7V540.3" stroke="#089981" stroke-width="0.8"/>
<path d="M593.5 539.7V541.1" stroke="#f23645" stroke-width="0.8"/>
<path d="M594.1 540.8V542.0" stroke="#089981" stroke-width="0.8"/>
<path d="M594.7 539.9V541.2M595.3 539.9V541.1M595.9 539.8V541.2M596.5 541.3V542.5M597.1 541.3V542.5" stroke="#f23645" stroke-width="0.8"/>
<path d="M597.7 541.1V542.7" stroke="#089981" stroke-width="0.8"/>
<path d="M598.3 541.6V542.8" stroke="#f23645" stroke-width="0.8"/>
<path d="M598.9 541.2V542.4M599.5 541.2V542.6" stroke="#089981" stroke-width="0.8"/>
<path d="M600.1 540.8V542.2M600.7 541.2V542.6" stroke="#f23645" stroke-width="0.8"/>
<path d="M601.3 541.7V542.9" stroke="#089981" stroke-width="0.8"/>
<path d="M601.9 541.0V542.2M602.5 541.6V543.0" stroke="#f23645" stroke-width="0.8"/>
<path d="M603.1 542.7V543.9" stroke="#089981" stroke-width="0.8"/>
<path d="M603.7 541.7V542.9" stroke="#f23645" stroke-width="0.8"/>
<path d="M604.3 541.8V544.0M604.9 541.1V543.3M605.5 541.6V542.8M606.1 540.9V543.2" stroke="#089981" stroke-width="0.8"/>
<path d="M606.7 541.6V543.7" stroke="#f23645" stroke-width="0.8"/>
<path d="M607.3 540.7V542.0M607.9 539.7V541.6M608.5 539.4V540.8M609.1 539.0V540.2M609.7 537.2V539.3M610.3 538.0V539.2M610.9 537.0V538.9" stroke="#089981" stroke-width="0.8"/>
<path d="M611.5 537.9V539.1M612.1 537.6V538.9" stroke="#f23645" stroke-width="0.8"/>
<path d="M612.7 536.7V537.9M613.3 537.2V538.4" stroke="#089981" stroke-width="0.8"/>
<path d="M613.9 538.2V539.4" stroke="#f23645" stroke-width="0.8"/>
<path d="M614.5 538.0V539.2" stroke="#089981" stroke-width="0.8"/>
<path d="M615.1 538.0V539.2M615.7 537.5V538.7M616.3 538.1V539.3M616.9 538.5V539.7M617.5 537.3V538.5" stroke="#f23645" stroke-width="0.8"/>
<path d="M618.1 537.0V538.2" stroke="#089981" stroke-width="0.8"/>
<path d="M618.7 536.1V537.3M619.3 536.0V537.2" stroke="#f23645" stroke-width="0.8"/>
<path d="M619.9 536.5V538.2M620.5 536.7V538.3M621.1 536.3V538.1M621.7 536.4V537.6M622.3 536.3V538.4M622.9 536.8V538.6" stroke="#089981" stroke-width="0.8"/>
<path d="M623.5 537.9V540.0" stroke="#f23645" stroke-width="0.8"/>
<path d="M624.1 539.3V541.2M624.7 539.7V541.0" stroke="#089981" stroke-width="0.8"/>
<path d="M625.3 539.5V540.7M625.9 539.2V540.4M626.5 539.8V541.1" stroke="#f23645" stroke-width="0.8"/>
<path d="M627.1 539.7V540.9M627.7 539.7V540.9M628.3 539.1V540.3M628.9 539.0V540.2M629.5 539.0V540.2" stroke="#089981" stroke-width="0.8"/>
<path d="M630.1 540.3V541.5M630.7 540.0V541.3M631.3 540.8V542.0" stroke="#f23645" stroke-width="0.8"/>
<path d="M631.9 540.8V542.0M632.5 541.2V542.4" stroke="#089981" stroke-width="0.8"/>
<path d="M633.1 540.7V541.9" stroke="#f23645" stroke-width="0.8"/>
<path d="M633.7 540.9V542.1" stroke="#089981" stroke-width="0.8"/>
<path d="M634.3 540.9V542.1" stroke="#f23645" stroke-width="0.8"/>
<path d="M634.9 539.9V541.1" stroke="#089981" stroke-width="0.8"/>
<path d="M635.5 540.2V541.4M636.1 541.2V542.4" stroke="#f23645" stroke-width="0.8"/>
<path d="M636.7 541.3V542.6M637.3 541.4V542.6" stroke="#089981" stroke-width="0.8"/>
<path d="M637.9 540.1V541.3" stroke="#f23645" stroke-width="0.8"/>
<path d="M638.5 540.6V541.8M639.1 540.3V541.5M639.7 539.0V540.2M640.3 538.3V539.8M640.9 539.0V540.8M641.5 539.6V540.8" stroke="#089981" stroke-width="0.8"/>
<path d="M642.1 539.2V540.7" stroke="#f23645" stroke-width="0.8"/>
<path d="M642.7 539.1V540.3" stroke="#089981" stroke-width="0.8"/>
<path d="M643.3 538.8V540.4M643.9 539.0V540.3" stroke="#f23645" stroke-width="0.8"/>
<path d="M644.5 538.6V540.1" stroke="#089981" stroke-width="0.8"/>
<path d="M645.1 540.3V541.5M645.7 539.4V540.9" stroke="#f23645" stroke-width="0.8"/>
<path d="M646.3 538.3V540.0" stroke="#089981" stroke-width="0.8"/>
<path d="M646.9 538.7V539.9" stroke="#f23645" stroke-width="0.8"/>
<path d="M647.5 538.7V540.1" stroke="#089981" stroke-width="0.8"/>
<path d="M648.1 537.6V538.8M648.7 537.3V538.5M649.3 538.0V539.2M649.9 538.1V539.5M650.5 537.4V538.6" stroke="#f23645" stroke-width="0.8"/>
<path d="M651.1 537.2V538.4" stroke="#089981" stroke-width="0.8"/>
<path d="M651.7 537.2V538.4M652.3 537.7V538.9" stroke="#f23645" stroke-width="0.8"/>
<path d="M652.9 537.1V538.3" stroke="#089981" stroke-width="0.8"/>
<path d="M653.5 537.5V538.7M654.1 537.0V538.2" stroke="#f23645" stroke-width="0.8"/>
<path d="M654.7 536.3V537.5" stroke="#089981" stroke-width="0.8"/>
<path d="M655.3 535.7V536.9" stroke="#f23645" stroke-width="0.8"/>
<path d="M655.9 535.2V536.4M656.5 535.9V537.1" stroke="#089981" stroke-width="0.8"/>
<path d="M657.1 536.5V537.7M657.7 537.9V539.1M658.3 537.7V538.9" stroke="#f23645" stroke-width="0.8"/>
<path d="M658.9 538.5V539.7M659.5 539.3V540.5" stroke="#089981" stroke-width="0.8"/>
<path d="M660.1 539.4V540.6M660.7 539.6V540.8" stroke="#f23645" stroke-width="0.8"/>
<path d="M661.3 539.1V540.4M661.9 538.0V539.2" stroke="#089981" stroke-width="0.8"/>
<path d="M662.5 537.8V539.1" stroke="#f23645" stroke-width="0.8"/>
<path d="M663.1 538.5V539.8M663.7 538.3V539.5M664.3 538.7V539.9M664.9 537.2V538.4" stroke="#089981" stroke-width="0.8"/>
<path d="M665.5 536.9V538.2" stroke="#f23645" stroke-width="0.8"/>
<path d="M666.1 536.5V537.7" stroke="#089981" stroke-width="0.8"/>
<path d="M666.7 538.2V539.4M667.3 537.4V538.6" stroke="#f23645" stroke-width="0.8"/>
<path d="M667.9 536.6V537.8" stroke="#089981" stroke-width="0.8"/>
<path d="M668.5 537.0V538.2M669.1 537.3V538.5" stroke="#f23645" stroke-width="0.8"/>
<path d="M669.7 537.2V538.4M670.3 537.0V538.2M670.9 537.7V538.9M671.5 536.7V538.3" stroke="#089981" stroke-width="0.8"/>
<path d="M672.1 536.4V537.6" stroke="#f23645" stroke-width="0.8"/>
<path d="M672.7 536.3V537.5" stroke="#089981" stroke-width="0.8"/>
<path d="M673.3 534.9V537.0" stroke="#f23645" stroke-width="0.8"/>
<path d="M673.9 534.5V536.6" stroke="#089981" stroke-width="0.8"/>
<path d="M674.5 534.3V535.5" stroke="#f23645" stroke-width="0.8"/>
<path d="M675.1 534.4V535.9" stroke="#089981" stroke-width="0.8"/>
<path d="M675.7 534.4V535.6" stroke="#f23645" stroke-width="0.8"/>
<path d="M676.3 534.4V535.6M676.9 535.7V536.9" stroke="#089981" stroke-width="0.8"/>
<path d="M677.5 536.0V537.2" stroke="#f23645" stroke-width="0.8"/>
<path d="M678.1 535.4V536.6M678.7 535.2V536.4M679.3 535.2V536.4" stroke="#089981" stroke-width="0.8"/>
<path d="M679.9 535.6V536.8" stroke="#f23645" stroke-width="0.8"/>
<path d="M680.5 534.8V536.0M681.1 534.1V535.3" stroke="#089981" stroke-width="0.8"/>
<path d="M681.7 534.8V536.0" stroke="#f23645" stroke-width="0.8"/>
<path d="M682.3 534.8V536.0" stroke="#089981" stroke-width="0.8"/>
<path d="M682.9 534.4V535.6" stroke="#f23645" stroke-width="0.8"/>
<path d="M683.5 535.2V536.4" stroke="#089981" stroke-width="0.8"/>
<path d="M684.1 536.3V537.5M684.7 535.6V536.8" stroke="#f23645" stroke-width="0.8"/>
<path d="M685.3 535.3V536.5" stroke="#089981" stroke-width="0.8"/>
<path d="M685.9 535.7V536.9" stroke="#f23645" stroke-width="0.8"/>
<path d="M686.5 535.0V536.2M687.1 535.4V536.6" stroke="#089981" stroke-width="0.8"/>
<path d="M687.7 535.6V537.0M688.3 535.6V536.8M688.9 536.0V537.2M689.5 536.6V537.8M690.1 536.8V538.2" stroke="#f23645" stroke-width="0.8"/>
<path d="M690.7 535.6V536.8M691.3 534.6V537.3M691.9 534.1V535.9M692.5 533.3V536.3M693.1 531.8V535.8M693.7 530.6V533.4M694.3 530.6V532.7M694.9 528.4V532.5M695.5 529.3V531.9M696.1 529.0V530.6M696.7 527.8V530.9M697.3 527.9V530.3M697.9 527.0V529.4M698.5 526.9V528.2M699.1 526.3V527.5" stroke="#089981" stroke-width="0.8"/>
<path d="M699.7 525.7V526.9" stroke="#f23645" stroke-width="0.8"/>
<path d="M700.3 524.9V526.1M700.9 525.2V526.4" stroke="#089981" stroke-width="0.8"/>
<path d="M701.5 525.3V526.5M702.1 525.5V526.7" stroke="#f23645" stroke-width="0.8"/>
<path d="M702.7 524.3V525.5" stroke="#089981" stroke-width="0.8"/>
<path d="M703.3 525.0V526.2M703.9 523.5V524.7" stroke="#f23645" stroke-width="0.8"/>
<path d="M704.5 523.8V525.0" stroke="#089981" stroke-width="0.8"/>
<path d="M705.1 523.8V525.0M705.7 524.1V525.3M706.3 523.5V525.2M706.9 524.2V525.9M707.5 524.3V526.1M708.1 523.7V525.8M708.7 526.0V527.2" stroke="#f23645" stroke-width="0.8"/>
<path d="M709.3 526.3V528.0M709.9 526.5V527.7" stroke="#089981" stroke-width="0.8"/>
<path d="M710.5 527.7V529.0M711.1 528.0V529.4M711.7 527.8V529.0M712.3 527.4V528.6M712.9 526.3V528.7M713.5 524.7V527.7M714.1 525.0V526.7" stroke="#f23645" stroke-width="0.8"/>
<path d="M714.7 523.7V526.5M715.3 524.1V525.3M715.9 522.5V523.7" stroke="#089981" stroke-width="0.8"/>
<path d="M716.5 522.2V523.4M717.1 522.4V523.6" stroke="#f23645" stroke-width="0.8"/>
<path d="M717.7 521.2V524.1M718.3 521.7V523.6M718.9 520.6V521.8M719.5 520.1V522.6" stroke="#089981" stroke-width="0.8"/>
<path d="M720.1 519.1V521.6" stroke="#f23645" stroke-width="0.8"/>
<path d="M720.7 518.3V520.5" stroke="#089981" stroke-width="0.8"/>
<path d="M721.3 517.8V520.3" stroke="#f23645" stroke-width="0.8"/>
<path d="M721.9 517.1V519.4M722.5 518.2V519.4" stroke="#089981" stroke-width="0.8"/>
<path d="M723.1 517.4V518.6M723.7 517.0V518.2M724.3 517.6V518.8" stroke="#f23645" stroke-width="0.8"/>
<path d="M724.9 519.2V520.8" stroke="#089981" stroke-width="0.8"/>
<path d="M725.5 519.8V521.0M726.1 520.0V521.7" stroke="#f23645" stroke-width="0.8"/>
<path d="M726.7 520.3V521.5" stroke="#089981" stroke-width="0.8"/>
<path d="M727.3 520.3V522.2M727.9 519.4V520.6M728.5 520.6V521.8M729.1 521.6V522.8M729.7 521.6V523.6M730.3 523.3V525.8M730.9 522.8V527.1M731.5 525.4V528.4M732.1 525.7V528.9M732.7 527.0V530.6M733.3 526.0V529.9M733.9 530.2V531.7" stroke="#f23645" stroke-width="0.8"/>
<path d="M734.5 529.6V530.8" stroke="#089981" stroke-width="0.8"/>
<path d="M735.1 530.3V531.5" stroke="#f23645" stroke-width="0.8"/>
<path d="M735.7 531.4V532.6M736.3 532.1V533.3" stroke="#089981" stroke-width="0.8"/>
<path d="M736.9 531.5V532.7M737.5 531.7V532.9M738.1 531.7V532.9M738.7 531.5V532.7M739.3 530.1V531.3M739.9 530.3V531.5" stroke="#f23645" stroke-width="0.8"/>
<path d="M740.5 530.6V531.8M741.1 531.7V532.9" stroke="#089981" stroke-width="0.8"/>
<path d="M741.7 531.5V532.7M742.3 530.9V532.1M742.9 529.7V530.9M743.5 530.2V531.4M744.1 530.8V532.0" stroke="#f23645" stroke-width="0.8"/>
<path d="M744.7 530.2V531.4M745.3 529.8V531.0" stroke="#089981" stroke-width="0.8"/>
<path d="M745.9 530.1V531.5M746.5 530.1V531.7M747.1 531.2V533.0M747.7 530.8V532.3" stroke="#f23645" stroke-width="0.8"/>
<path d="M748.3 530.7V531.9" stroke="#089981" stroke-width="0.8"/>
<path d="M748.9 531.1V532.7M749.5 531.1V532.3M750.1 531.9V533.3M750.7 532.1V533.3" stroke="#f23645" stroke-width="0.8"/>
<path d="M751.3 532.2V533.7M751.9 532.5V533.7" stroke="#089981" stroke-width="0.8"/>
<path d="M752.5 532.6V534.1M753.1 532.8V534.0M753.7 532.6V534.1M754.3 533.7V534.9M754.9 533.5V534.7M755.5 533.0V534.5" stroke="#f23645" stroke-width="0.8"/>
<path d="M756.1 533.4V534.6" stroke="#089981" stroke-width="0.8"/>
<path d="M756.7 533.4V534.6M757.3 534.5V535.7" stroke="#f23645" stroke-width="0.8"/>
<path d="M757.9 534.1V535.5M758.5 534.6V535.8M759.1 534.0V535.5" stroke="#089981" stroke-width="0.8"/>
<path d="M759.7 533.7V535.4" stroke="#f23645" stroke-width="0.8"/>
<path d="M760.3 534.1V535.8" stroke="#089981" stroke-width="0.8"/>
<path d="M760.9 535.0V536.2M761.5 535.4V536.6M762.1 535.1V536.7M762.7 534.8V536.1" stroke="#f23645" stroke-width="0.8"/>
<path d="M763.3 534.8V536.0" stroke="#089981" stroke-width="0.8"/>
<path d="M763.9 534.2V535.9M764.5 534.1V535.3" stroke="#f23645" stroke-width="0.8"/>
<path d="M765.1 533.4V534.9M765.7 532.7V533.9M766.3 532.7V533.9M766.9 533.1V534.5" stroke="#089981" stroke-width="0.8"/>
<path d="M767.5 533.4V534.6M768.1 533.0V534.2M768.7 531.6V533.1" stroke="#f23645" stroke-width="0.8"/>
<path d="M769.3 532.0V533.7" stroke="#089981" stroke-width="0.8"/>
<path d="M769.9 532.3V533.5" stroke="#f23645" stroke-width="0.8"/>
<path d="M770.5 530.7V531.9M771.1 529.3V530.9M771.7 529.6V530.8M772.3 529.5V530.7" stroke="#089981" stroke-width="0.8"/>
<path d="M772.9 530.7V531.9M773.5 531.1V533.9" stroke="#f23645" stroke-width="0.8"/>
<path d="M774.1 531.1V533.5" stroke="#089981" stroke-width="0.8"/>
<path d="M774.7 533.1V534.6M775.3 532.5V534.8M775.9 533.4V535.7M776.5 534.5V536.8M777.1 535.2V537.0M777.7 535.0V536.2" stroke="#f23645" stroke-width="0.8"/>
<path d="M778.3 535.0V536.4M778.9 534.7V536.0M779.5 534.6V535.9M780.1 535.3V536.5M780.7 535.1V536.3" stroke="#089981" stroke-width="0.8"/>
<path d="M781.3 535.1V536.3" stroke="#f23645" stroke-width="0.8"/>
<path d="M781.9 535.5V536.7M782.5 535.6V536.8" stroke="#089981" stroke-width="0.8"/>
<path d="M783.1 535.0V536.2" stroke="#f23645" stroke-width="0.8"/>
<path d="M783.7 534.5V535.7M784.3 535.4V536.6M784.9 535.9V537.1" stroke="#089981" stroke-width="0.8"/>
<path d="M785.5 535.9V537.1" stroke="#f23645" stroke-width="0.8"/>
<path d="M786.1 534.4V535.7M786.7 534.0V535.4" stroke="#089981" stroke-width="0.8"/>
<path d="M787.3 534.2V535.4M787.9 534.4V535.6M788.5 534.1V535.3" stroke="#f23645" stroke-width="0.8"/>
<path d="M789.1 534.4V535.6M789.7 533.9V535.1M790.3 532.7V534.1" stroke="#089981" stroke-width="0.8"/>
<path d="M790.9 534.6V535.8" stroke="#f23645" stroke-width="0.8"/>
<path d="M791.5 534.0V535.2" stroke="#089981" stroke-width="0.8"/>
<path d="M792.1 534.9V536.1M792.7 534.7V535.9" stroke="#f23645" stroke-width="0.8"/>
<path d="M793.3 534.9V536.1" stroke="#089981" stroke-width="0.8"/>
<path d="M793.9 534.4V535.6" stroke="#f23645" stroke-width="0.8"/>
<path d="M794.5 534.1V535.4" stroke="#089981" stroke-width="0.8"/>
<path d="M795.1 534.1V535.3" stroke="#f23645" stroke-width="0.8"/>
<path d="M795.7 535.1V536.3" stroke="#089981" stroke-width="0.8"/>
<path d="M796.3 534.8V536.0M796.9 536.0V537.2" stroke="#f23645" stroke-width="0.8"/>
<path d="M797.5 534.9V536.1" stroke="#089981" stroke-width="0.8"/>
<path d="M798.1 535.0V536.4M798.7 534.0V535.2M799.3 534.9V536.1" stroke="#f23645" stroke-width="0.8"/>
<path d="M799.9 535.9V537.1" stroke="#089981" stroke-width="0.8"/>
<path d="M800.5 535.8V537.3" stroke="#f23645" stroke-width="0.8"/>
<path d="M801.1 536.2V537.6M801.7 535.8V537.3" stroke="#089981" stroke-width="0.8"/>
<path d="M802.3 535.9V537.1" stroke="#f23645" stroke-width="0.8"/>
<path d="M802.9 535.3V536.6M803.5 534.8V536.0" stroke="#089981" stroke-width="0.8"/>
<path d="M804.1 534.1V535.3M804.7 535.3V536.8" stroke="#f23645" stroke-width="0.8"/>
<path d="M805.3 534.6V536.0M805.9 535.2V536.6" stroke="#089981" stroke-width="0.8"/>
<path d="M806.5 535.3V536.6" stroke="#f23645" stroke-width="0.8"/>
<path d="M807.1 535.6V536.8M807.7 535.7V536.9" stroke="#089981" stroke-width="0.8"/>
<path d="M808.3 536.6V537.8M808.9 536.0V537.4M809.5 536.4V537.6" stroke="#f23645" stroke-width="0.8"/>
<path d="M810.1 536.3V537.5M810.7 536.4V537.6" stroke="#089981" stroke-width="0.8"/>
<path d="M811.3 536.6V538.0M811.9 536.8V538.0M812.5 536.1V537.6M813.1 535.8V537.0M813.7 536.5V537.7M814.3 536.5V537.7" stroke="#f23645" stroke-width="0.8"/>
<path d="M814.9 536.3V537.5" stroke="#089981" stroke-width="0.8"/>
<path d="M815.5 536.4V537.6M816.1 535.9V537.1" stroke="#f23645" stroke-width="0.8"/>
<path d="M816.7 536.5V537.7" stroke="#089981" stroke-width="0.8"/>
<path d="M817.3 537.0V538.4" stroke="#f23645" stroke-width="0.8"/>
<path d="M817.9 537.8V539.0" stroke="#089981" stroke-width="0.8"/>
<path d="M818.5 537.8V539.0M819.1 538.5V539.7M819.7 538.1V539.3M820.3 537.4V538.6" stroke="#f23645" stroke-width="0.8"/>
<path d="M820.9 538.0V539.2M821.5 539.2V540.4" stroke="#089981" stroke-width="0.8"/>
<path d="M822.1 539.1V540.3M822.7 538.4V539.7M823.3 538.7V539.9" stroke="#f23645" stroke-width="0.8"/>
<path d="M823.9 538.9V540.1M824.5 538.2V539.4" stroke="#089981" stroke-width="0.8"/>
<path d="M825.1 537.4V538.6M825.7 538.2V539.4" stroke="#f23645" stroke-width="0.8"/>
<path d="M826.3 539.4V540.6M826.9 539.6V540.8M827.5 538.2V539.4" stroke="#089981" stroke-width="0.8"/>
<path d="M828.1 540.1V541.3" stroke="#f23645" stroke-width="0.8"/>
<path d="M828.7 539.3V540.5M829.3 538.4V539.6M829.9 539.2V540.4" stroke="#089981" stroke-width="0.8"/>
<path d="M830.5 539.7V540.9M831.1 539.9V541.1M831.7 538.9V540.1" stroke="#f23645" stroke-width="0.8"/>
<path d="M832.3 539.5V540.7" stroke="#089981" stroke-width="0.8"/>
<path d="M832.9 538.8V540.0M833.5 539.3V540.5" stroke="#f23645" stroke-width="0.8"/>
<path d="M834.1 539.7V540.9M834.7 538.8V540.0M835.3 538.7V539.9M835.9 538.7V540.0M836.5 539.2V540.4M837.1 538.1V539.3M837.7 538.7V540.2M838.3 539.0V540.2" stroke="#089981" stroke-width="0.8"/>
<path d="M838.9 538.3V539.7" stroke="#f23645" stroke-width="0.8"/>
<path d="M839.5 538.2V539.4M840.1 537.7V539.2" stroke="#089981" stroke-width="0.8"/>
<path d="M840.7 538.4V539.6" stroke="#f23645" stroke-width="0.8"/>
<path d="M841.3 537.5V538.7M841.9 537.0V538.3M842.5 538.1V539.3M843.1 537.5V538.7" stroke="#089981" stroke-width="0.8"/>
<path d="M843.7 537.3V538.6" stroke="#f23645" stroke-width="0.8"/>
<path d="M844.3 536.5V537.9M844.9 535.9V537.1" stroke="#089981" stroke-width="0.8"/>
<path d="M845.5 535.1V536.7" stroke="#f23645" stroke-width="0.8"/>
<path d="M846.1 535.1V536.6" stroke="#089981" stroke-width="0.8"/>
<path d="M846.7 535.4V536.8" stroke="#f23645" stroke-width="0.8"/>
<path d="M847.3 535.4V536.6" stroke="#089981" stroke-width="0.8"/>
<path d="M847.9 536.1V537.3M848.5 536.6V538.1M849.1 536.8V538.0M849.7 534.9V536.1M850.3 536.2V537.5M850.9 535.3V537.6" stroke="#f23645" stroke-width="0.8"/>
<path d="M851.5 534.1V536.1M852.1 533.1V534.9M852.7 533.0V534.4M853.3 532.2V534.1M853.9 532.0V533.5M854.5 530.8V533.1M855.1 531.6V533.2M855.7 530.1V532.3M856.3 529.6V531.3M856.9 529.6V531.2M857.5 528.2V530.5M858.1 528.0V530.0M858.7 528.9V530.1M859.3 527.5V529.7M859.9 527.3V528.5M860.5 525.9V527.7" stroke="#089981" stroke-width="0.8"/>
<path d="M861.1 526.0V528.5" stroke="#f23645" stroke-width="0.8"/>
<path d="M861.7 525.0V526.8" stroke="#089981" stroke-width="0.8"/>
<path d="M862.3 526.0V527.2" stroke="#f23645" stroke-width="0.8"/>
<path d="M862.9 526.1V527.9M863.5 525.3V526.5" stroke="#089981" stroke-width="0.8"/>
<path d="M864.1 525.2V526.4M864.7 524.8V526.0" stroke="#f23645" stroke-width="0.8"/>
<path d="M865.3 524.5V525.7M865.9 525.9V527.5M866.5 526.2V527.4M867.1 525.8V527.6M867.7 526.3V527.7" stroke="#089981" stroke-width="0.8"/>
<path d="M868.3 526.7V528.3M868.9 526.6V527.8M869.5 527.4V529.2M870.1 528.4V529.6M870.7 529.2V530.4" stroke="#f23645" stroke-width="0.8"/>
<path d="M871.3 527.7V528.9" stroke="#089981" stroke-width="0.8"/>
<path d="M871.9 527.9V529.1M872.5 527.9V529.6M873.1 528.1V529.3M873.7 529.7V531.0" stroke="#f23645" stroke-width="0.8"/>
<path d="M874.3 529.7V530.9" stroke="#089981" stroke-width="0.8"/>
<path d="M874.9 530.1V532.8" stroke="#f23645" stroke-width="0.8"/>
<path d="M875.5 531.6V535.6" stroke="#089981" stroke-width="0.8"/>
<path d="M876.1 531.2V535.5M876.7 532.9V538.6M877.3 535.2V539.9M877.9 536.2V539.5M878.5 537.4V540.2M879.1 540.5V542.0M879.7 539.8V541.0M880.3 539.0V540.2" stroke="#f23645" stroke-width="0.8"/>
<path d="M880.9 538.9V540.1" stroke="#089981" stroke-width="0.8"/>
<path d="M881.5 539.8V541.0" stroke="#f23645" stroke-width="0.8"/>
<path d="M882.1 538.9V540.2M882.7 539.0V540.3M883.3 538.5V539.7M883.9 538.4V539.6" stroke="#089981" stroke-width="0.8"/>
<path d="M884.5 538.8V540.0M885.1 538.9V540.1" stroke="#f23645" stroke-width="0.8"/>
<path d="M885.7 537.6V538.8M886.3 538.0V539.4" stroke="#089981" stroke-width="0.8"/>
<path d="M886.9 537.7V539.3M887.5 538.1V539.3M888.1 537.6V538.9M888.7 537.1V538.3M889.3 537.3V538.5" stroke="#f23645" stroke-width="0.8"/>
<path d="M889.9 536.9V538.1" stroke="#089981" stroke-width="0.8"/>
<path d="M890.5 536.6V537.8" stroke="#f23645" stroke-width="0.8"/>
<path d="M891.1 536.5V537.7" stroke="#089981" stroke-width="0.8"/>
<path d="M891.7 538.0V539.2" stroke="#f23645" stroke-width="0.8"/>
<path d="M892.3 536.9V538.1M892.9 536.4V538.0" stroke="#089981" stroke-width="0.8"/>
<path d="M893.5 535.9V537.4M894.1 535.5V537.1M894.7 535.0V536.2M895.3 535.7V536.9" stroke="#f23645" stroke-width="0.8"/>
<path d="M895.9 534.8V536.0M896.5 534.1V535.9" stroke="#089981" stroke-width="0.8"/>
<path d="M897.1 534.3V535.9M897.7 533.7V534.9" stroke="#f23645" stroke-width="0.8"/>
<path d="M898.3 534.7V535.9M898.9 533.3V535.1" stroke="#089981" stroke-width="0.8"/>
<path d="M899.5 533.3V534.9" stroke="#f23645" stroke-width="0.8"/>
<path d="M900.1 532.9V534.1M900.7 532.4V533.8M901.3 533.1V534.3M901.9 533.6V535.1" stroke="#089981" stroke-width="0.8"/>
<path d="M902.5 533.6V535.2M903.1 532.5V534.1" stroke="#f23645" stroke-width="0.8"/>
<path d="M903.7 532.5V534.4" stroke="#089981" stroke-width="0.8"/>
<path d="M904.3 532.6V533.8" stroke="#f23645" stroke-width="0.8"/>
<path d="M904.9 532.4V533.6M905.5 532.9V534.1M906.1 533.7V535.0M906.7 533.2V534.4" stroke="#089981" stroke-width="0.8"/>
<path d="M907.3 532.2V533.4M907.9 531.5V532.7M908.5 531.8V533.0M909.1 531.8V533.0" stroke="#f23645" stroke-width="0.8"/>
<path d="M909.7 531.8V533.0M910.3 530.8V532.0M910.9 530.5V531.7M911.5 531.1V532.4" stroke="#089981" stroke-width="0.8"/>
<path d="M912.1 530.3V531.5" stroke="#f23645" stroke-width="0.8"/>
<path d="M912.7 530.9V532.1M913.3 529.8V531.0" stroke="#089981" stroke-width="0.8"/>
<path d="M913.9 530.0V531.2M914.5 529.3V530.5" stroke="#f23645" stroke-width="0.8"/>
<path d="M915.1 529.6V530.8M915.7 529.3V530.6" stroke="#089981" stroke-width="0.8"/>
<path d="M916.3 528.8V530.0M916.9 528.2V529.5M917.5 529.6V530.8M918.1 529.6V530.9M918.7 529.7V530.9" stroke="#f23645" stroke-width="0.8"/>
<path d="M919.3 530.2V531.4M919.9 529.8V531.0M920.5 529.6V530.8" stroke="#089981" stroke-width="0.8"/>
<path d="M921.1 528.9V530.2" stroke="#f23645" stroke-width="0.8"/>
<path d="M921.7 530.1V531.3M922.3 529.5V530.7" stroke="#089981" stroke-width="0.8"/>
<path d="M922.9 528.6V529.8" stroke="#f23645" stroke-width="0.8"/>
<path d="M923.5 528.6V529.8M924.1 527.9V529.3M924.7 527.3V528.5M925.3 527.9V529.1M925.9 527.8V529.0M926.5 529.0V530.2M927.1 528.5V529.7" stroke="#089981" stroke-width="0.8"/>
<path d="M927.7 528.6V529.8" stroke="#f23645" stroke-width="0.8"/>
<path d="M928.3 529.5V530.7M928.9 529.7V530.9M929.5 529.2V530.4" stroke="#089981" stroke-width="0.8"/>
<path d="M930.1 529.3V530.5" stroke="#f23645" stroke-width="0.8"/>
<path d="M930.7 529.9V531.1" stroke="#089981" stroke-width="0.8"/>
<path d="M931.3 529.4V530.6" stroke="#f23645" stroke-width="0.8"/>
<path d="M931.9 529.7V530.9" stroke="#089981" stroke-width="0.8"/>
<path d="M932.5 529.6V530.8" stroke="#f23645" stroke-width="0.8"/>
<path d="M933.1 529.6V530.8" stroke="#089981" stroke-width="0.8"/>
<path d="M933.7 529.0V530.2M934.3 529.3V530.5" stroke="#f23645" stroke-width="0.8"/>
<path d="M934.9 529.3V530.5" stroke="#089981" stroke-width="0.8"/>
<path d="M935.5 529.3V530.5M936.1 529.7V530.9M936.7 529.5V530.8M937.3 529.5V530.7M937.9 529.4V530.6M938.5 529.9V531.1M939.1 529.9V531.1M939.7 530.4V531.6" stroke="#f23645" stroke-width="0.8"/>
<path d="M940.3 530.3V531.5" stroke="#089981" stroke-width="0.8"/>
<path d="M940.9 529.7V530.9" stroke="#f23645" stroke-width="0.8"/>
<path d="M941.5 529.9V531.1" stroke="#089981" stroke-width="0.8"/>
<path d="M942.1 530.2V531.4" stroke="#f23645" stroke-width="0.8"/>
<path d="M942.7 531.2V532.4" stroke="#089981" stroke-width="0.8"/>
<path d="M943.3 530.4V531.6" stroke="#f23645" stroke-width="0.8"/>
<path d="M943.9 529.4V530.6" stroke="#089981" stroke-width="0.8"/>
<path d="M944.5 529.1V530.3M945.1 529.6V530.8" stroke="#f23645" stroke-width="0.8"/>
<path d="M945.7 528.8V530.0" stroke="#089981" stroke-width="0.8"/>
<path d="M946.3 528.7V529.9" stroke="#f23645" stroke-width="0.8"/>
<path d="M946.9 528.7V529.9M947.5 529.4V530.6M948.1 530.2V531.4M948.7 530.3V531.5" stroke="#089981" stroke-width="0.8"/>
<path d="M949.3 529.9V531.1" stroke="#f23645" stroke-width="0.8"/>
<path d="M949.9 530.1V531.3M950.5 530.8V532.0" stroke="#089981" stroke-width="0.8"/>
<path d="M951.1 530.0V531.2" stroke="#f23645" stroke-width="0.8"/>
<path d="M951.7 528.8V530.0M952.3 528.3V529.5" stroke="#089981" stroke-width="0.8"/>
<path d="M952.9 527.8V529.0M953.5 527.7V528.9" stroke="#f23645" stroke-width="0.8"/>
<path d="M954.1 528.1V529.3" stroke="#089981" stroke-width="0.8"/>
<path d="M954.7 528.0V529.2" stroke="#f23645" stroke-width="0.8"/>
<path d="M955.3 528.0V530.0M955.9 527.1V529.4M956.5 526.9V528.8M957.1 524.0V527.9M957.7 525.1V528.0M958.3 523.1V526.8M958.9 522.1V526.2" stroke="#089981" stroke-width="0.8"/>
<path d="M959.5 521.8V524.6" stroke="#f23645" stroke-width="0.8"/>
<path d="M960.1 521.6V524.1M960.7 519.3V521.6" stroke="#089981" stroke-width="0.8"/>
<path d="M961.3 517.7V520.9" stroke="#f23645" stroke-width="0.8"/>
<path d="M961.9 517.7V519.8M962.5 515.3V517.0M963.1 515.1V519.1M963.7 513.7V516.7M964.3 515.0V516.4" stroke="#089981" stroke-width="0.8"/>
<path d="M964.9 514.7V516.5" stroke="#f23645" stroke-width="0.8"/>
<path d="M965.5 514.4V516.0" stroke="#089981" stroke-width="0.8"/>
<path d="M966.1 514.1V515.9M966.7 513.4V515.0" stroke="#f23645" stroke-width="0.8"/>
<path d="M967.3 513.3V515.1" stroke="#089981" stroke-width="0.8"/>
<path d="M967.9 514.1V515.3M968.5 514.0V515.2" stroke="#f23645" stroke-width="0.8"/>
<path d="M969.1 513.3V514.8" stroke="#089981" stroke-width="0.8"/>
<path d="M969.7 512.5V513.9" stroke="#f23645" stroke-width="0.8"/>
<path d="M970.3 511.0V512.4" stroke="#089981" stroke-width="0.8"/>
<path d="M970.9 511.6V513.3" stroke="#f23645" stroke-width="0.8"/>
<path d="M971.5 512.0V513.2M972.1 511.6V513.1" stroke="#089981" stroke-width="0.8"/>
<path d="M972.7 512.0V513.8M973.3 513.2V514.6M973.9 512.9V514.2M974.5 513.6V515.1" stroke="#f23645" stroke-width="0.8"/>
<path d="M975.1 513.4V515.9" stroke="#089981" stroke-width="0.8"/>
<path d="M975.7 514.9V516.6" stroke="#f23645" stroke-width="0.8"/>
<path d="M976.3 515.6V517.4" stroke="#089981" stroke-width="0.8"/>
<path d="M976.9 515.1V516.6M977.5 515.3V517.1" stroke="#f23645" stroke-width="0.8"/>
<path d="M978.1 515.7V517.3M978.7 513.8V516.7M979.3 514.9V516.5" stroke="#089981" stroke-width="0.8"/>
<path d="M979.9 511.3V516.2" stroke="#f23645" stroke-width="0.8"/>
<path d="M980.5 509.9V515.6" stroke="#089981" stroke-width="0.8"/>
<path d="M981.1 508.3V512.9" stroke="#f23645" stroke-width="0.8"/>
<path d="M981.7 507.4V511.0" stroke="#089981" stroke-width="0.8"/>
<path d="M982.3 508.4V513.3M982.9 509.5V515.7M983.5 509.9V515.0" stroke="#f23645" stroke-width="0.8"/>
<path d="M984.1 512.5V520.2M984.7 516.8V521.3M985.3 519.1V521.4" stroke="#089981" stroke-width="0.8"/>
<path d="M985.9 520.2V521.8" stroke="#f23645" stroke-width="0.8"/>
<path d="M986.5 520.2V521.8" stroke="#089981" stroke-width="0.8"/>
<path d="M987.1 519.3V521.6" stroke="#f23645" stroke-width="0.8"/>
<path d="M987.7 519.2V521.1M988.3 519.2V520.6M988.9 518.2V519.8" stroke="#089981" stroke-width="0.8"/>
<path d="M989.5 517.6V519.2" stroke="#f23645" stroke-width="0.8"/>
<path d="M990.1 517.1V518.6" stroke="#089981" stroke-width="0.8"/>
<path d="M990.7 516.7V517.9" stroke="#f23645" stroke-width="0.8"/>
<path d="M991.3 517.4V518.7" stroke="#089981" stroke-width="0.8"/>
<path d="M991.9 517.2V519.8M992.5 518.3V519.6M993.1 517.3V518.9M993.7 518.8V520.7" stroke="#f23645" stroke-width="0.8"/>
<path d="M994.3 519.3V521.2" stroke="#089981" stroke-width="0.8"/>
<path d="M994.9 519.4V521.8M995.5 520.3V521.5" stroke="#f23645" stroke-width="0.8"/>
<path d="M996.1 520.5V521.7" stroke="#089981" stroke-width="0.8"/>
<path d="M996.7 520.7V521.9" stroke="#f23645" stroke-width="0.8"/>
<path d="M997.3 520.5V522.0" stroke="#089981" stroke-width="0.8"/>
<path d="M997.9 520.3V521.5" stroke="#f23645" stroke-width="0.8"/>
<path d="M998.5 519.4V521.2M999.1 519.6V520.9M999.7 518.6V520.5M1000.3 518.9V520.7M1000.9 518.4V519.6M1001.5 518.6V520.4" stroke="#089981" stroke-width="0.8"/>
<path d="M1002.1 517.6V518.8" stroke="#f23645" stroke-width="0.8"/>
<path d="M1002.7 518.8V520.0" stroke="#089981" stroke-width="0.8"/>
<path d="M1003.3 518.2V519.6M1003.9 517.7V519.2M1004.5 517.8V519.5" stroke="#f23645" stroke-width="0.8"/>
<path d="M1005.1 517.4V518.6M1005.7 517.4V518.6M1006.3 516.2V517.4" stroke="#089981" stroke-width="0.8"/>
<path d="M1006.9 516.0V517.6" stroke="#f23645" stroke-width="0.8"/>
<path d="M1007.5 515.7V517.0M1008.1 516.2V517.4M1008.7 515.7V517.1" stroke="#089981" stroke-width="0.8"/>
<path d="M1009.3 516.7V517.9" stroke="#f23645" stroke-width="0.8"/>
<path d="M1009.9 516.0V517.5M1010.5 515.7V516.9" stroke="#089981" stroke-width="0.8"/>
<path d="M1011.1 516.0V517.5M1011.7 515.5V517.3" stroke="#f23645" stroke-width="0.8"/>
<path d="M1012.3 515.5V516.7M1012.9 515.2V516.7M1013.5 515.8V517.3M1014.1 515.2V516.7" stroke="#089981" stroke-width="0.8"/>
<path d="M1014.7 515.0V516.5" stroke="#f23645" stroke-width="0.8"/>
<path d="M1015.3 514.7V515.9M1015.9 514.1V515.4" stroke="#089981" stroke-width="0.8"/>
<path d="M1016.5 514.1V515.3M1017.1 513.9V515.4" stroke="#f23645" stroke-width="0.8"/>
<path d="M1017.7 514.3V515.5" stroke="#089981" stroke-width="0.8"/>
<path d="M1018.3 513.4V515.0" stroke="#f23645" stroke-width="0.8"/>
<path d="M1018.9 512.7V515.1" stroke="#089981" stroke-width="0.8"/>
<path d="M1019.5 512.7V514.0" stroke="#f23645" stroke-width="0.8"/>
<path d="M1020.1 511.5V512.7" stroke="#089981" stroke-width="0.8"/>
<path d="M1020.7 511.2V513.5" stroke="#f23645" stroke-width="0.8"/>
<path d="M1021.3 511.2V512.6M1021.9 511.0V512.2M1022.5 510.0V511.2" stroke="#089981" stroke-width="0.8"/>
<path d="M1023.1 509.9V511.7" stroke="#f23645" stroke-width="0.8"/>
<path d="M1023.7 510.3V511.8" stroke="#089981" stroke-width="0.8"/>
<path d="M1024.3 508.4V509.9" stroke="#f23645" stroke-width="0.8"/>
<path d="M1024.9 509.2V511.1M1025.5 508.3V510.4M1026.1 507.3V509.6" stroke="#089981" stroke-width="0.8"/>
<path d="M1026.7 506.9V509.3" stroke="#f23645" stroke-width="0.8"/>
<path d="M1027.3 507.5V509.4M1027.9 506.3V508.5M1028.5 502.9V507.6M1029.1 503.4V506.2M1029.7 499.4V504.7M1030.3 499.7V505.1M1030.9 499.7V504.8M1031.5 495.5V503.5M1032.1 491.9V502.3M1032.7 491.7V498.8M1033.3 493.5V495.7M1033.9 491.2V494.8" stroke="#089981" stroke-width="0.8"/>
<path d="M1034.5 493.8V495.3M1035.1 494.9V497.5M1035.7 493.4V497.2M1036.3 495.5V497.0M1036.9 494.7V497.6" stroke="#f23645" stroke-width="0.8"/>
<path d="M1037.5 494.6V496.7" stroke="#089981" stroke-width="0.8"/>
<path d="M1038.1 495.4V499.3" stroke="#f23645" stroke-width="0.8"/>
<path d="M1038.7 496.7V499.8M1039.3 498.7V501.2" stroke="#089981" stroke-width="0.8"/>
<path d="M1039.9 497.6V501.4" stroke="#f23645" stroke-width="0.8"/>
<path d="M1040.5 496.1V502.6M1041.1 494.0V500.0M1041.7 492.2V501.3M1042.3 492.5V498.6" stroke="#089981" stroke-width="0.8"/>
<path d="M1042.9 491.4V500.8" stroke="#f23645" stroke-width="0.8"/>
<path d="M1043.5 488.1V494.5" stroke="#089981" stroke-width="0.8"/>
<path d="M1044.1 488.8V495.5" stroke="#f23645" stroke-width="0.8"/>
<path d="M1044.7 491.3V498.6M1045.3 489.0V496.8" stroke="#089981" stroke-width="0.8"/>
<path d="M1045.9 489.9V495.7M1046.5 490.7V494.8" stroke="#f23645" stroke-width="0.8"/>
<path d="M1047.1 489.3V493.5" stroke="#089981" stroke-width="0.8"/>
<path d="M1047.7 489.2V498.0M1048.3 490.9V498.9M1048.9 489.7V497.7M1049.5 491.9V495.9" stroke="#f23645" stroke-width="0.8"/>
<path d="M1050.1 491.7V497.7M1050.7 492.9V500.0M1051.3 491.9V497.2M1051.9 484.9V494.8M1052.5 482.9V499.8" stroke="#089981" stroke-width="0.8"/>
<path d="M1053.1 489.8V499.0" stroke="#f23645" stroke-width="0.8"/>
<path d="M1053.7 475.4V489.1M1054.3 469.3V486.8" stroke="#089981" stroke-width="0.8"/>
<path d="M1054.9 466.3V494.2" stroke="#f23645" stroke-width="0.8"/>
<path d="M1055.5 459.8V488.6M1056.1 465.7V483.8" stroke="#089981" stroke-width="0.8"/>
<path d="M1056.7 451.2V487.1" stroke="#f23645" stroke-width="0.8"/>
<path d="M1057.3 429.7V471.5M1057.9 427.7V480.7M1058.5 432.3V458.9M1059.1 424.2V466.2M1059.7 442.7V467.9M1060.3 432.8V450.2M1060.9 425.7V447.8M1061.5 425.9V434.3" stroke="#089981" stroke-width="0.8"/>
<path d="M1062.1 423.5V434.7M1062.7 423.9V434.8" stroke="#f23645" stroke-width="0.8"/>
<path d="M1063.3 428.6V437.2" stroke="#089981" stroke-width="0.8"/>
<path d="M1063.9 426.9V433.3M1064.5 425.8V435.8M1065.1 426.3V436.4" stroke="#f23645" stroke-width="0.8"/>
<path d="M1065.7 430.3V436.4" stroke="#089981" stroke-width="0.8"/>
<path d="M1066.3 423.7V430.8" stroke="#f23645" stroke-width="0.8"/>
<path d="M1066.9 425.5V434.1M1067.5 422.8V430.6M1068.1 419.4V431.0" stroke="#089981" stroke-width="0.8"/>
<path d="M1068.7 420.6V429.2" stroke="#f23645" stroke-width="0.8"/>
<path d="M1069.3 421.6V433.1" stroke="#089981" stroke-width="0.8"/>
<path d="M1069.9 427.3V439.5" stroke="#f23645" stroke-width="0.8"/>
<path d="M1070.5 424.9V444.8" stroke="#089981" stroke-width="0.8"/>
<path d="M1071.1 423.0V433.2M1071.7 408.7V440.7" stroke="#f23645" stroke-width="0.8"/>
<path d="M1072.3 400.5V439.3M1072.9 394.1V443.5M1073.5 411.0V443.0M1074.1 392.2V416.1M1074.7 384.2V432.1M1075.3 416.8V444.1" stroke="#089981" stroke-width="0.8"/>
<path d="M1075.9 387.5V416.4" stroke="#f23645" stroke-width="0.8"/>
<path d="M1076.5 375.3V398.7M1077.1 387.5V403.4M1077.7 374.5V388.6M1078.3 375.9V397.2M1078.9 383.4V392.1M1079.5 375.7V389.4" stroke="#089981" stroke-width="0.8"/>
<path d="M1080.1 375.8V385.3" stroke="#f23645" stroke-width="0.8"/>
<path d="M1080.7 366.0V383.7M1081.3 363.0V381.9M1081.9 363.8V376.2M1082.5 360.5V380.4" stroke="#089981" stroke-width="0.8"/>
<path d="M1083.1 358.1V385.5" stroke="#f23645" stroke-width="0.8"/>
<path d="M1083.7 361.0V387.8" stroke="#089981" stroke-width="0.8"/>
<path d="M1084.3 357.6V379.7M1084.9 365.1V393.0M1085.5 364.4V412.6M1086.1 360.5V396.4M1086.7 362.0V402.2M1087.3 381.3V427.8M1087.9 380.4V431.2M1088.5 384.4V426.6M1089.1 393.5V420.0M1089.7 398.8V430.5" stroke="#f23645" stroke-width="0.8"/>
<path d="M1090.3 419.0V431.2M1090.9 403.0V427.0M1091.5 393.0V430.2" stroke="#089981" stroke-width="0.8"/>
<path d="M1092.1 395.4V431.2" stroke="#f23645" stroke-width="0.8"/>
<path d="M1092.7 382.4V400.7M1093.3 377.8V417.2M1093.9 386.2V418.6M1094.5 379.7V406.1M1095.1 375.4V405.7M1095.7 381.5V404.3" stroke="#089981" stroke-width="0.8"/>
<path d="M1096.3 378.7V397.8" stroke="#f23645" stroke-width="0.8"/>
<path d="M1096.9 381.3V398.6M1097.5 379.0V392.7" stroke="#089981" stroke-width="0.8"/>
<path d="M1098.1 377.7V386.8" stroke="#f23645" stroke-width="0.8"/>
<path d="M1098.7 372.1V385.9" stroke="#089981" stroke-width="0.8"/>
<path d="M1099.3 379.6V388.5M1099.9 387.2V397.4M1100.5 377.7V397.5M1101.1 377.1V407.5" stroke="#f23645" stroke-width="0.8"/>
<path d="M1101.7 376.6V407.7" stroke="#089981" stroke-width="0.8"/>
<path d="M1102.3 393.2V418.1M1102.9 378.3V414.8M1103.5 392.2V405.8M1104.1 389.0V413.8" stroke="#f23645" stroke-width="0.8"/>
<path d="M1104.7 391.4V415.0M1105.3 384.9V408.0" stroke="#089981" stroke-width="0.8"/>
<path d="M1105.9 394.5V413.8" stroke="#f23645" stroke-width="0.8"/>
<path d="M1106.5 374.2V414.5M1107.1 375.5V415.7M1107.7 373.0V391.6" stroke="#089981" stroke-width="0.8"/>
<path d="M1108.3 360.3V403.7" stroke="#f23645" stroke-width="0.8"/>
<path d="M1108.9 361.3V388.1M1109.5 353.0V392.1M1110.1 359.0V392.7" stroke="#089981" stroke-width="0.8"/>
<path d="M1110.7 348.6V385.8" stroke="#f23645" stroke-width="0.8"/>
<path d="M1111.3 346.1V363.9" stroke="#089981" stroke-width="0.8"/>
<path d="M1111.9 351.5V370.4" stroke="#f23645" stroke-width="0.8"/>
<path d="M1112.5 343.1V372.3M1113.1 351.1V369.2M1113.7 343.4V360.6M1114.3 348.7V361.7" stroke="#089981" stroke-width="0.8"/>
<path d="M1114.9 328.9V355.8" stroke="#f23645" stroke-width="0.8"/>
<path d="M1115.5 323.9V355.5M1116.1 319.8V356.2M1116.7 318.1V353.7M1117.3 316.8V348.3M1117.9 313.8V344.7M1118.5 315.1V338.8M1119.1 319.7V337.8M1119.7 313.2V322.5" stroke="#089981" stroke-width="0.8"/>
<path d="M1120.3 314.1V332.2" stroke="#f23645" stroke-width="0.8"/>
<path d="M1120.9 310.3V318.7M1121.5 314.0V320.6M1122.1 312.4V326.8M1122.7 298.4V311.9M1123.3 282.2V324.1M1123.9 285.5V319.0M1124.5 259.4V316.1M1125.1 245.7V318.2M1125.7 240.9V310.4M1126.3 239.4V304.5M1126.9 231.5V306.3M1127.5 227.3V313.2M1128.1 221.6V269.4M1128.7 218.3V287.2M1129.3 182.6V270.0M1129.9 205.0V261.4" stroke="#089981" stroke-width="0.8"/>
<path d="M1130.5 172.7V226.0" stroke="#f23645" stroke-width="0.8"/>
<path d="M1131.1 150.5V216.0M1131.7 174.3V205.1M1132.3 187.3V226.1M1132.9 151.7V225.7M1133.5 149.3V206.8" stroke="#089981" stroke-width="0.8"/>
<path d="M1134.1 183.4V226.9" stroke="#f23645" stroke-width="0.8"/>
<path d="M1134.7 176.2V251.3" stroke="#089981" stroke-width="0.8"/>
<path d="M1135.3 158.3V255.7M1135.9 159.8V280.8M1136.5 176.8V285.3M1137.1 180.8V281.7M1137.7 221.9V288.5M1138.3 174.8V243.5" stroke="#f23645" stroke-width="0.8"/>
<path d="M1138.9 212.5V292.3" stroke="#089981" stroke-width="0.8"/>
<path d="M1139.5 247.3V291.5M1140.1 251.3V289.6M1140.7 265.7V296.7M1141.3 275.8V298.9M1141.9 284.8V302.3M1142.5 285.3V307.9M1143.1 292.2V308.0M1143.7 283.3V310.6M1144.3 312.1V337.0M1144.9 288.7V332.8M1145.5 292.5V337.1M1146.1 307.8V335.3" stroke="#f23645" stroke-width="0.8"/>
<path d="M1146.7 291.4V325.8M1147.3 293.0V320.4M1147.9 291.5V328.1M1148.5 294.2V338.3" stroke="#089981" stroke-width="0.8"/>
<path d="M1149.1 292.8V318.9" stroke="#f23645" stroke-width="0.8"/>
<path d="M1149.7 301.5V337.6" stroke="#089981" stroke-width="0.8"/>
<path d="M1150.3 299.8V318.3M1150.9 307.6V345.0" stroke="#f23645" stroke-width="0.8"/>
<path d="M1151.5 293.1V346.8" stroke="#089981" stroke-width="0.8"/>
<path d="M1152.1 293.3V360.4" stroke="#f23645" stroke-width="0.8"/>
<path d="M1152.7 296.7V351.9" stroke="#089981" stroke-width="0.8"/>
<path d="M1153.3 298.4V348.2M1153.9 318.9V345.3" stroke="#f23645" stroke-width="0.8"/>
<path d="M1154.5 328.4V367.0" stroke="#089981" stroke-width="0.8"/>
<path d="M1155.1 331.7V388.6M1155.7 343.4V365.4" stroke="#f23645" stroke-width="0.8"/>
<path d="M1156.3 350.3V400.0" stroke="#089981" stroke-width="0.8"/>
<path d="M1156.9 359.7V394.0M1157.5 363.7V398.8M1158.1 365.5V387.3" stroke="#f23645" stroke-width="0.8"/>
<path d="M1158.7 361.3V399.2" stroke="#089981" stroke-width="0.8"/>
<path d="M1159.3 361.5V385.0M1159.9 350.7V398.1" stroke="#f23645" stroke-width="0.8"/>
<path d="M1160.5 361.2V391.1M1161.1 369.6V394.2M1161.7 347.9V374.3M1162.3 340.9V388.0M1162.9 335.5V367.8M1163.5 346.9V370.3M1164.1 335.1V347.9M1164.7 339.3V349.4" stroke="#089981" stroke-width="0.8"/>
<path d="M1165.3 342.3V352.8M1165.9 344.2V361.6M1166.5 339.5V361.5M1167.1 340.4V367.3M1167.7 334.8V375.4M1168.3 335.4V365.2M1168.9 351.9V376.1M1169.5 349.6V388.2M1170.1 346.4V383.3" stroke="#f23645" stroke-width="0.8"/>
<path d="M1170.7 354.8V379.4" stroke="#089981" stroke-width="0.8"/>
<path d="M1171.3 361.5V382.9M1171.9 363.2V374.8" stroke="#f23645" stroke-width="0.8"/>
<path d="M1172.5 369.5V383.7" stroke="#089981" stroke-width="0.8"/>
<path d="M1173.1 370.5V380.8" stroke="#f23645" stroke-width="0.8"/>
<path d="M1173.7 362.1V379.1M1174.3 353.1V383.5" stroke="#089981" stroke-width="0.8"/>
<path d="M1174.9 355.7V375.2M1175.5 352.7V378.8" stroke="#f23645" stroke-width="0.8"/>
<path d="M1176.1 345.4V377.7M1176.7 334.9V376.9M1177.3 349.0V367.3M1177.9 325.2V368.9" stroke="#089981" stroke-width="0.8"/>
<path d="M1178.5 319.7V363.9" stroke="#f23645" stroke-width="0.8"/>
<path d="M1179.1 320.3V341.7M1179.7 322.0V342.2M1180.3 329.5V351.4M1180.9 300.6V346.0M1181.5 304.9V329.7M1182.1 309.7V336.0M1182.7 283.1V323.2M1183.3 294.3V328.3M1183.9 263.9V325.5M1184.5 288.9V316.1M1185.1 264.2V308.0M1185.7 254.2V292.0" stroke="#089981" stroke-width="0.8"/>
<path d="M1186.3 256.9V303.4" stroke="#f23645" stroke-width="0.8"/>
<path d="M1186.9 249.2V294.6M1187.5 256.9V288.9M1188.1 264.4V290.7" stroke="#089981" stroke-width="0.8"/>
<path d="M1188.7 258.8V284.4M1189.3 256.3V276.2M1189.9 270.5V287.7" stroke="#f23645" stroke-width="0.8"/>
<path d="M1190.5 242.7V291.5M1191.1 244.1V265.6M1191.7 243.3V292.8M1192.3 242.8V277.7M1192.9 248.2V280.8M1193.5 242.5V264.8M1194.1 253.1V283.8" stroke="#089981" stroke-width="0.8"/>
<path d="M1194.7 248.2V284.6" stroke="#f23645" stroke-width="0.8"/>
<path d="M1195.3 244.3V286.7" stroke="#089981" stroke-width="0.8"/>
<path d="M1195.9 251.4V283.9M1196.5 246.1V261.8M1197.1 238.9V283.8" stroke="#f23645" stroke-width="0.8"/>
<path d="M1197.7 230.3V286.6M1198.3 230.3V283.0M1198.9 218.0V252.0M1199.5 237.5V280.8M1200.1 236.0V286.3M1200.7 198.4V270.3M1201.3 215.5V267.0M1201.9 207.5V241.5" stroke="#089981" stroke-width="0.8"/>
<path d="M1202.5 209.8V228.7" stroke="#f23645" stroke-width="0.8"/>
<path d="M1203.1 203.1V228.9" stroke="#089981" stroke-width="0.8"/>
<path d="M1203.7 203.1V222.9M1204.3 198.3V224.9" stroke="#f23645" stroke-width="0.8"/>
<path d="M1204.9 200.1V235.7" stroke="#089981" stroke-width="0.8"/>
<path d="M1205.5 195.7V230.6" stroke="#f23645" stroke-width="0.8"/>
<path d="M1206.1 200.2V241.9" stroke="#089981" stroke-width="0.8"/>
<path d="M1206.7 221.3V254.1" stroke="#f23645" stroke-width="0.8"/>
<path d="M1207.3 209.4V251.5" stroke="#089981" stroke-width="0.8"/>
<path d="M1207.9 223.1V269.0M1208.5 235.3V281.9M1209.1 243.5V290.3M1209.7 237.5V264.9M1210.3 251.6V300.7M1210.9 234.8V264.4M1211.5 242.1V287.3M1212.1 255.9V311.7M1212.7 261.5V299.3" stroke="#f23645" stroke-width="0.8"/>
<path d="M1213.3 270.2V312.0" stroke="#089981" stroke-width="0.8"/>
<path d="M1213.9 286.3V311.4" stroke="#f23645" stroke-width="0.8"/>
<path d="M1214.5 293.2V311.4M1215.1 280.6V314.1M1215.7 259.2V307.5M1216.3 267.3V294.2M1216.9 256.5V308.1" stroke="#089981" stroke-width="0.8"/>
<path d="M1217.5 242.3V306.5M1218.1 235.4V280.8" stroke="#f23645" stroke-width="0.8"/>
<path d="M1218.7 249.2V294.4M1219.3 244.8V279.8M1219.9 238.7V275.3M1220.5 233.3V258.9M1221.1 215.1V265.7M1221.7 211.5V238.8M1222.3 227.0V245.2M1222.9 213.3V243.6" stroke="#089981" stroke-width="0.8"/>
<path d="M1223.5 206.7V227.1" stroke="#f23645" stroke-width="0.8"/>
<path d="M1224.1 201.9V235.3M1224.7 190.2V223.5M1225.3 217.5V235.9" stroke="#089981" stroke-width="0.8"/>
<path d="M1225.9 184.4V227.3M1226.5 185.8V223.5M1227.1 185.5V220.6M1227.7 178.8V205.4" stroke="#f23645" stroke-width="0.8"/>
<path d="M1228.3 169.8V210.9M1228.9 158.7V207.0M1229.5 159.3V195.7" stroke="#089981" stroke-width="0.8"/>
<path d="M1230.1 159.1V198.8" stroke="#f23645" stroke-width="0.8"/>
<path d="M1230.7 165.7V191.2M1231.3 153.0V178.8" stroke="#089981" stroke-width="0.8"/>
<path d="M1231.9 156.2V179.8M1232.5 168.4V184.5" stroke="#f23645" stroke-width="0.8"/>
<path d="M1233.1 144.6V176.9M1233.7 141.6V174.1M1234.3 151.3V168.0M1234.9 123.5V161.8M1235.5 138.1V173.4M1236.1 115.1V157.8" stroke="#089981" stroke-width="0.8"/>
<path d="M1236.7 122.2V171.4M1237.3 117.8V168.0" stroke="#f23645" stroke-width="0.8"/>
<path d="M1237.9 110.6V158.6M1238.5 113.9V137.5M1239.1 127.2V151.2M1239.7 114.7V130.0M1240.3 119.1V139.1M1240.9 109.0V131.7M1241.5 110.2V129.0M1242.1 112.9V124.0" stroke="#089981" stroke-width="0.8"/>
<path d="M1242.7 105.6V134.5M1243.3 121.2V135.8M1243.9 109.7V146.5" stroke="#f23645" stroke-width="0.8"/>
<path d="M1244.5 116.6V147.4" stroke="#089981" stroke-width="0.8"/>
<path d="M1245.1 124.6V149.1M1245.7 106.7V155.2M1246.3 119.1V154.6M1246.9 113.1V159.8M1247.5 127.3V162.4" stroke="#f23645" stroke-width="0.8"/>
<path d="M1248.1 129.2V178.6M1248.7 133.9V160.1" stroke="#089981" stroke-width="0.8"/>
<path d="M1249.3 140.2V182.3M1249.9 144.6V169.8M1250.5 154.3V181.6M1251.1 161.8V185.2M1251.7 166.3V177.7M1252.3 169.8V185.0" stroke="#f23645" stroke-width="0.8"/>
<path d="M1252.9 151.3V177.6M1253.5 157.4V180.4" stroke="#089981" stroke-width="0.8"/>
<path d="M1254.1 141.2V189.5M1254.7 140.7V159.5" stroke="#f23645" stroke-width="0.8"/>
<path d="M1255.3 139.8V183.4M1255.9 148.7V167.1M1256.5 152.3V166.8" stroke="#089981" stroke-width="0.8"/>
<path d="M1257.1 137.4V155.8" stroke="#f23645" stroke-width="0.8"/>
<path d="M1257.7 141.6V150.5" stroke="#089981" stroke-width="0.8"/>
<path d="M1258.3 140.0V154.7M1258.9 139.8V158.0" stroke="#f23645" stroke-width="0.8"/>
<path d="M1259.5 138.7V177.8" stroke="#089981" stroke-width="0.8"/>
<path d="M1260.1 147.3V200.5M1260.7 158.6V203.5M1261.3 143.3V196.5M1261.9 149.5V192.0M1262.5 147.0V216.7" stroke="#f23645" stroke-width="0.8"/>
<path d="M1263.1 181.4V210.0" stroke="#089981" stroke-width="0.8"/>
<path d="M1263.7 162.7V205.3M1264.3 191.4V224.1M1264.9 183.2V210.3" stroke="#f23645" stroke-width="0.8"/>
<path d="M1265.5 201.6V219.6M1266.1 183.4V208.1M1266.7 175.1V213.6M1267.3 182.4V213.7" stroke="#089981" stroke-width="0.8"/>
<path d="M1267.9 186.1V209.0M1268.5 175.3V201.9M1269.1 173.2V199.1M1269.7 180.2V205.8M1270.3 177.5V210.7" stroke="#f23645" stroke-width="0.8"/>
<path d="M1270.9 173.2V214.6" stroke="#089981" stroke-width="0.8"/>
<path d="M1271.5 175.0V220.0M1272.1 180.9V207.4M1272.7 188.3V227.6M1273.3 192.4V229.4M1273.9 210.8V233.1" stroke="#f23645" stroke-width="0.8"/>
<path d="M1274.5 201.4V242.2" stroke="#089981" stroke-width="0.8"/>
<path d="M1275.1 217.8V251.7M1275.7 232.9V258.5M1276.3 227.8V255.8M1276.9 228.7V279.1M1277.5 233.0V268.7" stroke="#f23645" stroke-width="0.8"/>
<path d="M1278.1 235.8V277.9" stroke="#089981" stroke-width="0.8"/>
<path d="M1278.7 236.0V284.8" stroke="#f23645" stroke-width="0.8"/>
<path d="M1279.3 240.1V285.1M1279.9 246.7V285.1" stroke="#089981" stroke-width="0.8"/>
<path d="M1280.5 261.3V278.6" stroke="#f23645" stroke-width="0.8"/>
<path d="M1281.1 255.4V276.2M1281.7 261.9V276.5M1282.3 263.3V280.3" stroke="#089981" stroke-width="0.8"/>
<path d="M1282.9 253.4V285.1M1283.5 252.0V291.6M1284.1 265.9V296.4M1284.7 254.9V309.8" stroke="#f23645" stroke-width="0.8"/>
<path d="M1285.3 265.4V304.5" stroke="#089981" stroke-width="0.8"/>
<path d="M1285.9 254.7V312.5" stroke="#f23645" stroke-width="0.8"/>
<path d="M1286.5 268.3V321.2M1287.1 269.4V320.3M1287.7 278.2V317.0" stroke="#089981" stroke-width="0.8"/>
<path d="M1288.3 290.3V311.1M1288.9 308.0V321.8M1289.5 317.4V324.6" stroke="#f23645" stroke-width="0.8"/>
<path d="M1290.1 307.0V321.8M1290.7 306.9V320.4" stroke="#089981" stroke-width="0.8"/>
<path d="M1291.3 294.8V323.6" stroke="#f23645" stroke-width="0.8"/>
<path d="M1291.9 293.3V320.7M1292.5 282.1V319.4M1293.1 289.6V318.5M1293.7 272.8V316.3M1294.3 274.4V311.6M1294.9 263.2V297.2M1295.5 279.5V301.5M1296.1 261.9V296.4M1296.7 261.0V291.0" stroke="#089981" stroke-width="0.8"/>
<path d="M1297.3 263.3V280.8M1297.9 259.3V273.5M1298.5 259.6V274.6M1299.1 270.0V278.9M1299.7 261.3V284.9M1300.3 261.7V293.1M1300.9 266.4V296.3M1301.5 268.9V289.2M1302.1 269.0V310.1M1302.7 265.2V307.9M1303.3 269.0V328.9M1303.9 274.8V332.6M1304.5 289.6V340.1M1305.1 307.1V340.3" stroke="#f23645" stroke-width="0.8"/>
<path d="M1305.7 295.3V333.6" stroke="#089981" stroke-width="0.8"/>
<path d="M1306.3 301.4V338.9" stroke="#f23645" stroke-width="0.8"/>
<path d="M1306.9 295.3V333.8M1307.5 312.7V335.9M1308.1 293.7V334.7M1308.7 287.2V334.7M1309.3 292.9V322.0M1309.9 303.9V325.3" stroke="#089981" stroke-width="0.8"/>
<path d="M1310.5 284.9V317.3M1311.1 283.6V314.0M1311.7 302.0V325.3M1312.3 290.0V325.2M1312.9 304.8V326.1M1313.5 300.0V316.5M1314.1 297.6V324.5M1314.7 303.3V322.1M1315.3 311.0V324.0M1315.9 314.4V320.1M1316.5 307.2V323.6" stroke="#f23645" stroke-width="0.8"/>
<path d="M1317.1 303.5V326.1M1317.7 300.3V311.8M1318.3 298.5V320.7M1318.9 291.6V308.8M1319.5 285.0V322.9" stroke="#089981" stroke-width="0.8"/>
<path d="M1320.1 280.3V321.7M1320.7 269.8V290.5" stroke="#f23645" stroke-width="0.8"/>
<path d="M1321.3 287.8V312.3M1321.9 261.1V297.4" stroke="#089981" stroke-width="0.8"/>
<path d="M1322.5 257.1V293.2" stroke="#f23645" stroke-width="0.8"/>
<path d="M1323.1 258.7V292.7M1323.7 270.3V287.8M1324.3 252.7V280.8M1324.9 248.3V270.1M1325.5 238.4V274.2M1326.1 238.8V265.0M1326.7 235.4V265.1M1327.3 231.3V260.2M1327.9 233.7V251.1" stroke="#089981" stroke-width="0.8"/>
<path d="M1328.5 226.9V252.6M1329.1 234.1V244.6" stroke="#f23645" stroke-width="0.8"/>
<path d="M1329.7 235.7V250.6" stroke="#089981" stroke-width="0.8"/>
<path d="M1330.3 227.6V252.9M1330.9 236.7V257.8" stroke="#f23645" stroke-width="0.8"/>
<path d="M1331.5 233.7V250.7M1332.1 233.3V252.6" stroke="#089981" stroke-width="0.8"/>
<path d="M1332.7 235.1V264.4M1333.3 239.1V268.1M1333.9 241.7V273.7M1334.5 246.5V273.4M1335.1 254.7V266.7M1335.7 253.5V278.8M1336.3 260.6V279.6" stroke="#f23645" stroke-width="0.8"/>
<path d="M1336.9 263.1V272.5" stroke="#089981" stroke-width="0.8"/>
<path d="M1337.5 265.0V273.1" stroke="#f23645" stroke-width="0.8"/>
<path d="M1338.1 267.2V279.2M1338.7 271.6V279.1M1339.3 268.9V279.6M1339.9 272.6V277.8" stroke="#089981" stroke-width="0.8"/>
<path d="M1340.5 267.1V278.6M1341.1 267.6V280.7M1341.7 272.6V280.0" stroke="#f23645" stroke-width="0.8"/>
<path d="M1342.3 269.2V286.0" stroke="#089981" stroke-width="0.8"/>
<path d="M1342.9 273.5V291.7M1343.5 274.6V290.3M1344.1 270.4V296.7M1344.7 281.5V292.4M1345.3 279.8V296.7M1345.9 279.3V307.5M1346.5 290.1V304.2M1347.1 300.4V315.9M1347.7 288.9V315.4M1348.3 291.8V324.6M1348.9 303.3V334.4" stroke="#f23645" stroke-width="0.8"/>
<path d="M1349.5 299.5V337.9" stroke="#089981" stroke-width="0.8"/>
<path d="M1350.1 310.1V358.2M1350.7 311.0V361.8M1351.3 335.7V359.7M1351.9 326.3V348.7" stroke="#f23645" stroke-width="0.8"/>
<path d="M1352.5 315.5V362.2" stroke="#089981" stroke-width="0.8"/>
<path d="M1353.1 324.6V369.5M1353.7 330.9V351.6M1354.3 342.0V371.5" stroke="#f23645" stroke-width="0.8"/>
<path d="M1354.9 358.5V371.2M1355.5 367.5V373.1M1356.1 365.5V372.3M1356.7 364.7V374.1M1357.3 366.4V374.2" stroke="#089981" stroke-width="0.8"/>
<path d="M1357.9 369.8V374.5M1358.5 366.8V376.2M1359.1 369.2V378.0" stroke="#f23645" stroke-width="0.8"/>
<path d="M1359.7 370.6V377.5" stroke="#089981" stroke-width="0.8"/>
<path d="M1360.3 374.3V381.0M1360.9 374.0V381.3M1361.5 371.7V380.4M1362.1 373.9V378.0" stroke="#f23645" stroke-width="0.8"/>
<path d="M1362.7 380.6V385.0" stroke="#089981" stroke-width="0.8"/>
<path d="M1363.3 374.9V386.7" stroke="#f23645" stroke-width="0.8"/>
<path d="M1363.9 378.8V387.1M1364.5 377.3V388.9" stroke="#089981" stroke-width="0.8"/>
<path d="M1365.1 379.5V389.3M1365.7 382.8V389.8M1366.3 379.7V394.6M1366.9 383.1V393.2M1367.5 390.0V397.6M1368.1 385.9V406.7M1368.7 388.2V409.3M1369.3 404.5V428.4M1369.9 400.6V432.9M1370.5 392.8V450.7M1371.1 396.7V444.0M1371.7 414.7V462.2M1372.3 398.4V447.1" stroke="#f23645" stroke-width="0.8"/>
<path d="M1372.9 408.1V433.6" stroke="#089981" stroke-width="0.8"/>
<path d="M1373.5 414.2V448.2" stroke="#f23645" stroke-width="0.8"/>
<path d="M1374.1 429.1V450.2" stroke="#089981" stroke-width="0.8"/>
<path d="M1374.7 439.3V463.8" stroke="#f23645" stroke-width="0.8"/>
<path d="M1375.3 441.7V455.9" stroke="#089981" stroke-width="0.8"/>
<path d="M1375.9 441.0V464.3M1376.5 441.7V464.6" stroke="#f23645" stroke-width="0.8"/>
<path d="M1377.1 439.9V451.3M1377.7 442.0V455.8M1378.3 438.7V449.5M1378.9 438.2V450.0M1379.5 445.4V460.1M1380.1 445.1V456.6" stroke="#089981" stroke-width="0.8"/>
<path d="M1380.7 441.7V452.1M1381.3 448.1V457.3M1381.9 444.4V453.0" stroke="#f23645" stroke-width="0.8"/>
<path d="M1382.5 443.2V451.5" stroke="#089981" stroke-width="0.8"/>
<path d="M1383.1 439.9V450.1" stroke="#f23645" stroke-width="0.8"/>
<path d="M1383.7 440.5V457.6M1384.3 439.6V450.2M1384.9 440.4V455.1M1385.5 441.2V453.5" stroke="#089981" stroke-width="0.8"/>
<path d="M1386.1 437.6V449.8M1386.7 441.0V456.2" stroke="#f23645" stroke-width="0.8"/>
<path d="M1387.3 442.7V457.0" stroke="#089981" stroke-width="0.8"/>
<path d="M1387.9 436.4V455.7M1388.5 438.4V458.6" stroke="#f23645" stroke-width="0.8"/>
<path d="M1389.1 432.6V452.6M1389.7 431.5V456.1M1390.3 440.2V456.4M1390.9 428.9V457.1" stroke="#089981" stroke-width="0.8"/>
<path d="M1391.5 435.6V455.9" stroke="#f23645" stroke-width="0.8"/>
<path d="M1392.1 433.4V449.3" stroke="#089981" stroke-width="0.8"/>
<path d="M1392.7 424.7V444.4" stroke="#f23645" stroke-width="0.8"/>
<path d="M1393.3 424.5V438.7" stroke="#089981" stroke-width="0.8"/>
<path d="M1133.7 163.9V132.4M1139.9 284.2V393.9M1202.0 211.0V186.4M1254.8 156.3V108.7M1257.0 142.2V250.3M407.4 426.3V481.0M1062.0 428.0V467.0M1287.8 317.5V354.7M1120.4 320.5V369.0" stroke="#f23645" stroke-width="0.9"/>
<path d="M402.5 216V526M1240.5 216V526M402.5 372.5H1239M1233.5 365.5L1240 372.5L1233.5 379" stroke="#5b86ff" stroke-width="1" fill="none"/>
<path d="M67 411.5H1329" stroke="#089981" stroke-opacity="0.55" stroke-width="1" stroke-dasharray="1 2" fill="none"/>
<rect x="755" y="149.5" width="132" height="53.5" rx="5" fill="#fff" filter="url(#sh)"/>
<text x="821" y="170" font-size="13.5" fill="#131722" textLength="108" lengthAdjust="spacingAndGlyphs" text-anchor="middle">1395 bars, 1395d</text>
<text x="822" y="193.5" font-size="13.5" fill="#131722" textLength="84" lengthAdjust="spacingAndGlyphs" text-anchor="middle">Vol 353.664M</text>
<text x="1407" y="160" font-size="14" fill="#131722">4400.00</text>
<text x="1407" y="232" font-size="14" fill="#131722">3600.00</text>
<text x="1407" y="304" font-size="14" fill="#131722">2800.00</text>
<text x="1407" y="376" font-size="14" fill="#131722">2000.00</text>
<text x="1407" y="520" font-size="14" fill="#131722">400.00</text>
<text x="1407" y="592" font-size="14" fill="#131722">−400.00</text>
<text x="1407" y="88.6" font-size="14" fill="#131722">5200.00</text>
<rect x="1400" y="51" width="70" height="27.5" fill="#fff"/>
<rect x="1400" y="78.5" width="70" height="11.5" fill="url(#fade)"/>
<text x="1406.5" y="72" font-size="14" fill="#131722" textLength="24" lengthAdjust="spacingAndGlyphs">USD</text>
<path d="M1435 65L1438 68L1441 65" stroke="#131722" stroke-width="1.4" fill="none"/>
<rect x="1351" y="95.5" width="42.5" height="21" rx="2" fill="#e3effd"/>
<rect x="1394.5" y="95.5" width="71" height="21" rx="2" fill="#e3effd"/>
<text x="1358" y="111" font-size="14" fill="#131722" textLength="29" lengthAdjust="spacingAndGlyphs">High</text>
<text x="1407" y="111" font-size="14" fill="#131722" textLength="50" lengthAdjust="spacingAndGlyphs">4951.83</text>
<rect x="1354" y="540" width="39.5" height="21" rx="2" fill="#e3effd"/>
<rect x="1394.5" y="540" width="48" height="21" rx="2" fill="#e3effd"/>
<text x="1360" y="555.5" font-size="14" fill="#131722" textLength="26" lengthAdjust="spacingAndGlyphs">Low</text>
<text x="1407.5" y="555.5" font-size="14" fill="#131722" textLength="27" lengthAdjust="spacingAndGlyphs">6.04</text>
<rect x="1329" y="401" width="64.5" height="21" rx="2" fill="#089981"/>
<text x="1336" y="417" font-size="14" fill="#fff" stroke="#fff" stroke-width="0.45" textLength="50" lengthAdjust="spacingAndGlyphs">ETHUSD</text>
<rect x="1394.5" y="401" width="75.5" height="37.5" rx="2" fill="#089981"/>
<text x="1408" y="417" font-size="14" fill="#fff" stroke="#fff" stroke-width="0.45" textLength="48" lengthAdjust="spacingAndGlyphs">1553.61</text>
<text x="1408" y="433.5" font-size="14" fill="#e6f4f1" textLength="53.5" lengthAdjust="spacingAndGlyphs">15:45:31</text>
<rect x="1395" y="439" width="70.5" height="20" rx="2" fill="#fff" stroke="#f23645" stroke-width="1"/>
<text x="1408" y="454.5" font-size="14" fill="#f23645" textLength="49.5" lengthAdjust="spacingAndGlyphs">1542.94</text>
<circle cx="1358.2" cy="538.8" r="16.4" fill="#fff" fill-opacity="0.93" filter="url(#sh)"/>
<path d="M1353.4 535.4L1357 539.2L1353.4 543M1358.2 532.4L1364.8 539.2L1358.2 546" stroke="#50535e" stroke-width="1.8" fill="none"/>
<text x="178.6" y="617" font-size="14" fill="#131722" stroke="#131722" stroke-width="0.45" text-anchor="middle">2017</text>
<text x="397.8" y="617" font-size="14" fill="#131722" stroke="#131722" stroke-width="0.45" text-anchor="middle">2018</text>
<text x="616.6" y="617" font-size="14" fill="#131722" stroke="#131722" stroke-width="0.45" text-anchor="middle">2019</text>
<text x="835.6" y="617" font-size="14" fill="#131722" stroke="#131722" stroke-width="0.45" text-anchor="middle">2020</text>
<text x="1054.5" y="617" font-size="14" fill="#131722" stroke="#131722" stroke-width="0.45" text-anchor="middle">2021</text>
<text x="1273.5" y="617" font-size="14" fill="#131722" stroke="#131722" stroke-width="0.45" text-anchor="middle">2022</text>
<text x="287.5" y="617" font-size="14" fill="#131722" text-anchor="middle">Jul</text>
<text x="506.5" y="617" font-size="14" fill="#131722" text-anchor="middle">Jul</text>
<text x="725.5" y="617" font-size="14" fill="#131722" text-anchor="middle">Jul</text>
<text x="944.5" y="617" font-size="14" fill="#131722" text-anchor="middle">Jul</text>
<text x="1163.5" y="617" font-size="14" fill="#131722" text-anchor="middle">Jul</text>
<text x="1382.5" y="617" font-size="14" fill="#131722" text-anchor="middle">Jul</text>
<rect x="75.5" y="549" width="126" height="38.5" rx="19.2" fill="#fff" stroke="#dcdcdc" stroke-width="1"/>
<circle cx="31.2" cy="23.8" r="16.9" fill="#a0755c"/>
<text x="24.8" y="31.8" font-size="23" fill="#fff" textLength="12" lengthAdjust="spacingAndGlyphs">P</text>
<circle cx="48.7" cy="12.8" r="12.8" fill="#fff"/>
<circle cx="48.7" cy="12.8" r="10.9" fill="#f23645"/>
<text x="48.7" y="17" font-size="12" fill="#fff" stroke="#fff" stroke-width="0.45" textLength="10.5" lengthAdjust="spacingAndGlyphs" text-anchor="middle">11</text>
<circle cx="87.6" cy="23.4" r="10.8" fill="#eef0f8"/>
<path d="M87.5 16L82.6 23.5L87.5 26.3Z" fill="#c2a3f7"/><path d="M87.5 16L92.5 23.5L87.5 26.3Z" fill="#86e8e0"/>
<path d="M82.6 23.5L87.5 26.3L87.5 31.2Z" fill="#6b8ef5"/><path d="M92.5 23.5L87.5 26.3L87.5 31.2Z" fill="#c59ef5"/>
<path d="M82.6 24.8L87.5 27.6L92.5 24.8L87.5 31.2Z" fill="#7c93f2" fill-opacity="0.9"/>
<text x="106" y="29.7" font-size="16.5" fill="#2962ff" stroke="#2962ff" stroke-width="0.45" textLength="61" lengthAdjust="spacingAndGlyphs">ETHUSD</text>
<circle cx="209.8" cy="24.3" r="10.8" stroke="#131722" stroke-width="1.3" fill="none"/>
<path d="M204.3 24.5H215.2M209.8 19V29.9" stroke="#131722" stroke-width="1.3" fill="none" stroke-linecap="round" stroke-linejoin="round"/>
<rect x="238.0" y="10.5" width="1" height="25.5" fill="#e0e3eb"/>
<rect x="293.0" y="10.5" width="1" height="25.5" fill="#e0e3eb"/>
<rect x="349.5" y="10.5" width="1" height="25.5" fill="#e0e3eb"/>
<rect x="534.0" y="10.5" width="1" height="25.5" fill="#e0e3eb"/>
<rect x="739.5" y="10.5" width="1" height="25.5" fill="#e0e3eb"/>
<rect x="1254.5" y="10.5" width="1" height="25.5" fill="#e0e3eb"/>
<text x="261" y="29.5" font-size="16.5" fill="#131722" textLength="10" lengthAdjust="spacingAndGlyphs">D</text>
<path d="M315.2 16.5H319.6V31.4H315.2ZM317.4 12V16.5M317.4 31.4V35.6M324.8 19.4H329.3V28.4H324.8ZM327 15.3V19.4M327 28.4V31.9" stroke="#131722" stroke-width="1.3" fill="none" stroke-linecap="round" stroke-linejoin="round"/>
<path d="M369.2 21L375.4 15L380.4 19.6L388.8 13.4" stroke="#131722" stroke-width="1.3" fill="none" stroke-linecap="round" stroke-linejoin="round"/>
<rect x="369.9" y="29.7" width="4.3" height="4.3" rx="1" stroke="#131722" stroke-width="1.3" fill="none"/>
<rect x="374.2" y="25.7" width="4.6" height="8.3" rx="1" stroke="#131722" stroke-width="1.3" fill="none"/>
<rect x="378.8" y="28.3" width="4.6" height="5.7" rx="1" stroke="#131722" stroke-width="1.3" fill="none"/>
<rect x="383.4" y="22.3" width="4.8" height="11.7" rx="1" stroke="#131722" stroke-width="1.3" fill="none"/>
<text x="398" y="29.7" font-size="17" fill="#131722" textLength="73.5" lengthAdjust="spacingAndGlyphs">Indicators</text>
<rect x="497.2" y="14.6" width="7.8" height="7.9" rx="2.2" stroke="#131722" stroke-width="1.3" fill="none"/>
<rect x="507.8" y="14.6" width="7.8" height="7.9" rx="2.2" stroke="#131722" stroke-width="1.3" fill="none"/>
<rect x="497.2" y="25.2" width="7.8" height="7.9" rx="2.2" stroke="#131722" stroke-width="1.3" fill="none"/>
<rect x="507.8" y="25.2" width="7.8" height="7.9" rx="2.2" stroke="#131722" stroke-width="1.3" fill="none"/>
<path d="M571.2 24.8A9.4 9.4 0 1 0 561.6 34.4M552.3 21.2A4.2 4.2 0 0 1 558.8 15.2M564.6 15.2A4.2 4.2 0 0 1 571.3 21.2M561.7 18.3V24.6H558.1M563.8 31.7H574.1M569 26.6V36.8" stroke="#131722" stroke-width="1.3" fill="none" stroke-linecap="round" stroke-linejoin="round"/>
<text x="582" y="30.2" font-size="17" fill="#131722" textLength="36.5" lengthAdjust="spacingAndGlyphs">Alert</text>
<path d="M653 17.4V31.4L645.2 24.4ZM662.6 17.4V31.4L655 24.4Z" stroke="#131722" stroke-width="1.3" fill="none" stroke-linecap="round" stroke-linejoin="round"/>
<text x="673.5" y="30" font-size="17" fill="#131722" textLength="49.5" lengthAdjust="spacingAndGlyphs">Replay</text>
<path d="M763.8 18.1L759.9 22.1L763.8 26M760.2 22.1H769A5.6 5.6 0 0 1 774.6 27.7V29.4" stroke="#131722" stroke-width="1.3" fill="none" stroke-linecap="round" stroke-linejoin="round"/>
<path d="M816.3 18L820.4 22.1L816.3 26.2M820.1 22.1H811.2A5.6 5.6 0 0 0 805.6 27.7V29.4" stroke="#c4c7cd" stroke-width="1.3" fill="none" stroke-linecap="round" stroke-linejoin="round"/>
<rect x="1108.8" y="14.3" width="21" height="18.5" rx="2.5" stroke="#131722" stroke-width="1.3" fill="none"/>
<text x="1148.5" y="29.4" font-size="17" fill="#131722" textLength="69.5" lengthAdjust="spacingAndGlyphs">Unnamed</text>
<path d="M1233.3 21.4L1237.8 25.9L1242.3 21.4" stroke="#131722" stroke-width="1.3" fill="none" stroke-linecap="round" stroke-linejoin="round"/>
<circle cx="1281.3" cy="21.9" r="8.3" stroke="#131722" stroke-width="1.3" fill="none"/>
<path d="M1287.3 27.9L1293 33.6" stroke="#131722" stroke-width="1.3" fill="none" stroke-linecap="round" stroke-linejoin="round"/>
<path d="M1327.34 12.90L1330.26 12.90L1330.74 15.73L1333.14 16.72L1335.47 15.06L1337.54 17.13L1335.88 19.46L1336.87 21.86L1339.70 22.34L1339.70 25.26L1336.87 25.74L1335.88 28.14L1337.54 30.47L1335.47 32.54L1333.14 30.88L1330.74 31.87L1330.26 34.70L1327.34 34.70L1326.86 31.87L1324.46 30.88L1322.13 32.54L1320.06 30.47L1321.72 28.14L1320.73 25.74L1317.90 25.26L1317.90 22.34L1320.73 21.86L1321.72 19.46L1320.06 17.13L1322.13 15.06L1324.46 16.72L1326.86 15.73Z" stroke="#131722" stroke-width="1.3" fill="none" stroke-linecap="round" stroke-linejoin="round"/>
<circle cx="1328.8" cy="23.8" r="3.1" stroke="#131722" stroke-width="1.3" fill="none"/>
<path d="M1365.2 19V14.7H1369.5M1379.3 14.7H1383.6V19M1383.6 28.6V32.9H1379.3M1369.5 32.9H1365.2V28.6" stroke="#131722" stroke-width="1.3" fill="none" stroke-linecap="round" stroke-linejoin="round"/>
<path d="M1409.6 16.4H1414.2L1415.6 13.9H1423.2L1424.6 16.4H1429.2A2 2 0 0 1 1431.2 18.4V31A2 2 0 0 1 1429.2 33H1409.6A2 2 0 0 1 1407.6 31V18.4A2 2 0 0 1 1409.6 16.4Z" stroke="#131722" stroke-width="1.3" fill="none" stroke-linecap="round" stroke-linejoin="round"/>
<circle cx="1419.3" cy="24.4" r="4.9" stroke="#131722" stroke-width="1.3" fill="none"/>
<rect x="1447.2" y="7" width="83.3" height="33.7" rx="16.85" fill="#2962ff"/>
<text x="1463" y="29.5" font-size="16.5" fill="#fff" stroke="#fff" stroke-width="0.45" textLength="52" lengthAdjust="spacingAndGlyphs">Publish</text>
<text x="78.2" y="77.3" font-size="18.3" fill="#131722" textLength="196" lengthAdjust="spacingAndGlyphs">Ethereum / U.S. Dollar</text>
<circle cx="282" cy="71" r="1.6" fill="#131722"/><circle cx="318.5" cy="71" r="1.6" fill="#131722"/>
<text x="290.6" y="77.3" font-size="18.3" fill="#131722" textLength="20.6" lengthAdjust="spacingAndGlyphs">1D</text>
<text x="326.2" y="77.3" font-size="18.3" fill="#131722" textLength="73" lengthAdjust="spacingAndGlyphs">BINANCE</text>
<circle cx="428.2" cy="70.5" r="10.5" fill="#089981" fill-opacity="0.12"/>
<circle cx="428.2" cy="70.5" r="5" fill="#089981"/>
<rect x="77.2" y="89.9" width="72.6" height="27.6" rx="3.5" fill="#fff" stroke="#f7a9af" stroke-width="1"/>
<text x="86.8" y="109.6" font-size="15.5" fill="#f23645" textLength="53" lengthAdjust="spacingAndGlyphs">1553.61</text>
<text x="160" y="109.2" font-size="13.5" fill="#131722" textLength="25.5" lengthAdjust="spacingAndGlyphs">0.00</text>
<rect x="196" y="89.9" width="71.6" height="27.6" rx="3.5" fill="#fff" stroke="#7fa2ff" stroke-width="1"/>
<text x="205" y="109.6" font-size="15.5" fill="#2962ff" textLength="53" lengthAdjust="spacingAndGlyphs">1553.61</text>
<text x="458.5" y="78.3" font-size="15.5" fill="#131722" textLength="10.5" lengthAdjust="spacingAndGlyphs">O</text>
<text x="471" y="78.3" font-size="15.5" fill="#089981" textLength="53.2" lengthAdjust="spacingAndGlyphs">1545.46</text>
<text x="533" y="78.3" font-size="15.5" fill="#131722" textLength="9.2" lengthAdjust="spacingAndGlyphs">H</text>
<text x="544.3" y="78.3" font-size="15.5" fill="#089981" textLength="52.4" lengthAdjust="spacingAndGlyphs">1554.41</text>
<text x="606.2" y="78.3" font-size="15.5" fill="#131722" textLength="7.6" lengthAdjust="spacingAndGlyphs">L</text>
<text x="616" y="78.3" font-size="15.5" fill="#089981" textLength="53.2" lengthAdjust="spacingAndGlyphs">1530.17</text>
<text x="677" y="78.3" font-size="15.5" fill="#131722" textLength="9.4" lengthAdjust="spacingAndGlyphs">C</text>
<text x="688.5" y="78.3" font-size="15.5" fill="#089981" textLength="52.2" lengthAdjust="spacingAndGlyphs">1553.61</text>
<text x="749.8" y="78.3" font-size="15.5" fill="#089981" textLength="101.5" lengthAdjust="spacingAndGlyphs">+8.17 (+0.53%)</text>
<text x="859.3" y="78.3" font-size="15.5" fill="#131722" textLength="19.8" lengthAdjust="spacingAndGlyphs">Vol</text>
<text x="881" y="78.3" font-size="15.5" fill="#089981" textLength="55.8" lengthAdjust="spacingAndGlyphs">29.139K</text>
<path d="M17.4 80.3H28M35 80.3H45.6M31.5 66.2V76.5M31.5 84V94.3" stroke="#2962ff" stroke-width="1.3" fill="none" stroke-linecap="round" stroke-linejoin="round" stroke-linecap="butt"/>
<path d="M22.6 131.4L39.6 114.6" stroke="#131722" stroke-width="1.3" fill="none" stroke-linecap="round" stroke-linejoin="round"/>
<circle cx="20.8" cy="133.2" r="2.4" stroke="#131722" stroke-width="1.3" fill="none"/><circle cx="41.4" cy="112.8" r="2.4" stroke="#131722" stroke-width="1.3" fill="none"/>
<path d="M17.8 154.5H44.4M17.8 162.3H41.4M17.8 169.2H44.4M20.8 176.7H44.4" stroke="#131722" stroke-width="1.3" fill="none" stroke-linecap="round" stroke-linejoin="round" stroke-linecap="butt"/>
<circle cx="43.9" cy="162.3" r="2.4" stroke="#131722" stroke-width="1.3" fill="#fff"/><circle cx="18.3" cy="176.7" r="2.4" stroke="#131722" stroke-width="1.3" fill="#fff"/>
<path d="M17.8 219.5C19 212 24 206.5 29.5 206.4C33.2 206.3 35.6 208.5 35.4 211.6C35 216.5 29 219.6 17.8 219.5ZM36.9 201.4V204.8C36.9 206.8 38.9 208 40.6 206.9L47 200.8" stroke="#131722" stroke-width="1.3" fill="none" stroke-linecap="round" stroke-linejoin="round"/>
<path d="M24.3 246V242.7H39.1V246M31.9 242.7V262.6M29 262.6H35" stroke="#131722" stroke-width="1.3" fill="none" stroke-linecap="round" stroke-linejoin="round" stroke-linecap="butt"/>
<path d="M24.7 285.3L20.6 305.7L29.1 294.1L24.7 285.3M29.1 294.1L39.1 286.4L42.4 302.4L29.1 294.1" stroke="#131722" stroke-width="1.3" fill="none" stroke-linecap="round" stroke-linejoin="round"/>
<circle cx="24.7" cy="285.3" r="2.3" stroke="#131722" stroke-width="1.3" fill="#fff"/>
<circle cx="29.1" cy="294.1" r="2.3" stroke="#131722" stroke-width="1.3" fill="#fff"/>
<circle cx="39.1" cy="286.4" r="2.3" stroke="#131722" stroke-width="1.3" fill="#fff"/>
<circle cx="42.4" cy="302.4" r="2.3" stroke="#131722" stroke-width="1.3" fill="#fff"/>
<circle cx="20.6" cy="305.7" r="2.3" stroke="#131722" stroke-width="1.3" fill="#fff"/>
<path d="M19.5 327.2V347M43.8 332.4V352M22.4 339.7H38.5" stroke="#131722" stroke-width="1.3" fill="none" stroke-linecap="round" stroke-linejoin="round" stroke-linecap="butt"/>
<path d="M41.8 339.7L37.4 336.9V342.5Z" fill="#131722"/>
<circle cx="19.5" cy="349.3" r="2.3" stroke="#131722" stroke-width="1.3" fill="#fff"/><circle cx="43.8" cy="330" r="2.3" stroke="#131722" stroke-width="1.3" fill="#fff"/>
<path d="M31.3 393.3L19.6 381.5C16.6 378.5 16.8 374 19.8 371.7C22.9 369.3 27.3 369.9 29.6 372.6L31.3 374.4L33 372.6C35.3 369.9 39.7 369.3 42.8 371.7C45.8 374 46 378.5 43 381.5Z" stroke="#131722" stroke-width="1.3" fill="none" stroke-linecap="round" stroke-linejoin="round"/>
<rect x="9.5" y="411" width="43" height="1" fill="#e0e3eb"/>
<path d="M17.6 449.4L39.2 427.8L45.2 433.8L23.6 455.4ZM22.3 444.7L25 447.4M25.9 441.1L27.6 442.8M29.5 437.5L32.2 440.2M33.1 433.9L34.8 435.6M36.7 430.3L39.4 433" stroke="#131722" stroke-width="1.3" fill="none" stroke-linecap="round" stroke-linejoin="round"/>
<circle cx="29.7" cy="483" r="9.6" stroke="#131722" stroke-width="1.3" fill="none"/>
<path d="M25.3 483H34.1M29.7 478.6V487.4M36.7 490L41.2 494.5" stroke="#131722" stroke-width="1.3" fill="none" stroke-linecap="round" stroke-linejoin="round"/>
<rect x="9.5" y="513.5" width="43" height="1" fill="#e0e3eb"/>
<path d="M21.6 553.4V541C21.6 535.5 26 531.3 31.3 531.3C36.6 531.3 41 535.5 41 541V553.4H34.2V541C34.2 539.2 32.9 537.6 31.3 537.6C29.7 537.6 28.4 539.2 28.4 541V553.4ZM21.6 548.3H28.4M34.2 548.3H41" stroke="#131722" stroke-width="1.3" fill="none" stroke-linecap="round" stroke-linejoin="round"/>
<path d="M18.3 591.2L19.8 586.3L34.5 571.6Q36.2 569.9 37.9 571.6Q39.6 573.3 37.9 575L23.2 589.7ZM19.8 586.3L23.2 589.7M32.4 573.7L35.8 577.1" stroke="#131722" stroke-width="1.3" fill="none" stroke-linecap="round" stroke-linejoin="round"/>
<path d="M32.9 590.4H42.4V597.5H32.9ZM34.7 590.4V587.5C34.7 585.8 36 584.6 37.6 584.6C39 584.6 40.2 585.6 40.4 587" stroke="#131722" stroke-width="1.3" fill="none" stroke-linecap="round" stroke-linejoin="round"/>
<rect x="37" y="593" width="1.4" height="2.2" fill="#131722"/>
<path d="M22 626.7H40.5V640.8H22ZM26.7 626.7V623.3C26.7 620.8 28.7 619 31.1 619C33.3 619 35.2 620.6 35.6 622.7" stroke="#131722" stroke-width="1.3" fill="none" stroke-linecap="round" stroke-linejoin="round"/>
<rect x="30.3" y="632.5" width="1.8" height="4.2" rx="0.9" fill="#131722"/>
<path d="M18.8 667.5C21.5 662.6 25.5 659.7 29.9 659.7C34.3 659.7 38.3 662.6 41.1 667.5C38.3 672.4 34.3 675.3 29.9 675.3C25.5 675.3 21.5 672.4 18.8 667.5Z" stroke="#131722" stroke-width="1.3" fill="none" stroke-linecap="round" stroke-linejoin="round"/>
<circle cx="29.9" cy="667.5" r="4.1" stroke="#131722" stroke-width="1.3" fill="none"/>
<path d="M31.4 685.7C32 682.6 34.3 681 36.7 681.4C37.8 681.6 38.2 682.5 37.6 683.4C36.6 685 34 685.9 31.4 685.7ZM39 679.4V681C39 682.2 40.2 682.6 41 682L44.2 679" stroke="#131722" stroke-width="1.3" fill="none" stroke-linecap="round" stroke-linejoin="round"/>
<rect x="13.8" y="698.2" width="35.9" height="36" rx="4.6" fill="#2962ff"/>
<path d="M29.2 709.6L32.4 706.4C34.7 704.1 38.5 704.1 40.8 706.4C43.1 708.7 43.1 712.5 40.8 714.8L37.4 718.1M28.2 718.6L34.6 712.6M25.4 713.8L22 717.2C19.7 719.5 19.7 723.3 22 725.6M32.8 721.4L30.5 723.7" stroke="#fff" stroke-width="1.4" fill="none" stroke-linecap="round" stroke-linejoin="round"/>
<path d="M1497.5 65.6H1519.6A3 3 0 0 1 1522.6 68.6V90A3 3 0 0 1 1519.6 93H1497.5A3 3 0 0 1 1494.5 90V68.6A3 3 0 0 1 1497.5 65.6ZM1500.5 72.2H1517.3M1500.5 76.8H1517.3M1500.5 81.4H1517.3M1500.5 86.4H1517.3" stroke="#131722" stroke-width="1.3" fill="none" stroke-linecap="round" stroke-linejoin="round"/>
<circle cx="1509.4" cy="136" r="10.6" stroke="#131722" stroke-width="1.3" fill="none"/>
<path d="M1498.4 131.5A4.6 4.6 0 0 1 1505 124.2M1513.8 124.2A4.6 4.6 0 0 1 1520.4 131.5M1509.4 127.2V135.3H1503.2M1500.4 144.6L1497.8 147.6M1518.4 144.6L1521 147.6" stroke="#131722" stroke-width="1.3" fill="none" stroke-linecap="round" stroke-linejoin="round"/>
<path d="M1495.6 177.5H1517.8A2 2 0 0 1 1519.8 179.5V204.2H1495.6A2 2 0 0 1 1493.6 202.2V179.5A2 2 0 0 1 1495.6 177.5ZM1519.8 186.8H1522.1A2 2 0 0 1 1524.1 188.8V202.2A2 2 0 0 1 1522.1 204.2H1519.8M1508 182.5H1514.8M1508 186.2H1514.8M1498.2 192.2H1514.8M1498.2 195.9H1514.8M1498.2 199.5H1506.4" stroke="#131722" stroke-width="1.3" fill="none" stroke-linecap="round" stroke-linejoin="round"/>
<rect x="1498.2" y="181.8" width="6" height="6.9" rx="1.5" stroke="#131722" stroke-width="1.3" fill="none"/>
<path d="M1495.7 228.5V238.5M1490.7 233.5H1500.7M1506 232.3H1519.2A3 3 0 0 1 1522.2 235.3V256A3 3 0 0 1 1519.2 259H1497.2A3 3 0 0 1 1494.2 256V243.5M1500.5 248.5H1517.3M1500.5 253.2H1517.3" stroke="#131722" stroke-width="1.3" fill="none" stroke-linecap="round" stroke-linejoin="round"/>
<rect x="1499.8" y="238.2" width="18.1" height="5.3" rx="2.65" stroke="#131722" stroke-width="1.3" fill="none"/>
<path d="M1507.1 284.6C1506.2 288.6 1503.8 290.8 1502.7 293.5C1502.4 291.7 1502.2 290.9 1501.3 290.3C1497.8 293.5 1495.6 297.6 1495.6 302.3C1495.6 309.5 1500.7 314.9 1505.7 315.8C1505.3 313.2 1506.3 310.7 1508.6 308.5C1510.6 310.7 1511.6 313.3 1511.3 315.9C1516.9 315 1522.2 309.9 1522.2 302.3C1522.2 298.9 1520.9 295.5 1518.1 292.6C1517.6 295 1516.7 296.6 1514.4 297.8C1515.3 293.8 1514.2 288.3 1507.1 284.6Z" stroke="#131722" stroke-width="1.3" fill="none" stroke-linecap="round" stroke-linejoin="round"/>
<path d="M1497.5 342.9H1519.6A3 3 0 0 1 1522.6 345.9V366.7A3 3 0 0 1 1519.6 369.7H1497.5A3 3 0 0 1 1494.5 366.7V345.9A3 3 0 0 1 1497.5 342.9ZM1502.3 340.4V344.8M1515.1 340.4V344.8" stroke="#131722" stroke-width="1.3" fill="none" stroke-linecap="round" stroke-linejoin="round"/>
<circle cx="1501.1" cy="349.7" r="1.9" stroke="#131722" stroke-width="1.2" fill="none"/>
<circle cx="1508.5" cy="349.7" r="1.9" stroke="#131722" stroke-width="1.2" fill="none"/>
<circle cx="1516" cy="349.7" r="1.9" stroke="#131722" stroke-width="1.2" fill="none"/>
<circle cx="1501.1" cy="357" r="1.9" stroke="#131722" stroke-width="1.2" fill="none"/>
<circle cx="1508.5" cy="357" r="1.9" stroke="#131722" stroke-width="1.2" fill="none"/>
<circle cx="1516" cy="357" r="1.9" stroke="#131722" stroke-width="1.2" fill="none"/>
<circle cx="1501.1" cy="364.4" r="1.9" stroke="#131722" stroke-width="1.2" fill="none"/>
<circle cx="1508.5" cy="364.4" r="1.9" stroke="#131722" stroke-width="1.2" fill="none"/>
<path d="M1504.2 415.8A10.7 10.7 0 1 1 1514.6000000000001 415.8V423.1H1504.2Z M1504.2 418.5H1514.6000000000001M1504.2 420.8H1514.6000000000001M1506.4 423.1V424.20000000000005A1.3 1.3 0 0 0 1507.7 425.5H1511.1000000000001A1.3 1.3 0 0 0 1512.4 424.20000000000005V423.1M1506.6000000000001 407.8H1512.2M1509.4 407.8V415.8" stroke="#131722" stroke-width="1.3" fill="none" stroke-linecap="round" stroke-linejoin="round"/>
<rect x="1489.9" y="444.8" width="38.7" height="1" fill="#e0e3eb"/>
<path d="M1497.5 489.5C1493.6 489.5 1491.1 486.6 1491.1 483.4C1491.1 480.3 1493.4 478 1496.5 477.6C1496.8 473.8 1499.8 471 1503.6 471C1505.5 468 1508.5 463.3 1513.2 463.3C1517.8 463.3 1521 466.8 1521.4 471.2C1524.8 472.5 1526.7 475.5 1526.7 479.3C1526.7 484.9 1522.6 489.5 1516.6 489.5C1514.8 490.7 1512.8 491.2 1510.6 491.2C1508.5 491.2 1506.5 490.6 1504.7 489.5ZM1500.4 476.6H1516.7M1500.4 481.3H1511" stroke="#131722" stroke-width="1.3" fill="none" stroke-linecap="round" stroke-linejoin="round"/>
<circle cx="1520.2" cy="493.7" r="2.1" stroke="#131722" stroke-width="1.3" fill="none"/>
<path d="M1504.3 524.8V521.8A4 4 0 0 1 1508.3 517.8H1518.6A4 4 0 0 1 1522.6 521.8V525A4 4 0 0 1 1518.6 529H1517.6M1517.8 532.2A4 4 0 0 1 1522.6 536.2V548.6L1517.6 543.2H1508.3A4 4 0 0 1 1504.3 539.8" stroke="#131722" stroke-width="1.3" fill="none" stroke-linecap="round" stroke-linejoin="round"/>
<path d="M1499.2 525H1512.4A5 5 0 0 1 1517.4 530V534.6A5 5 0 0 1 1512.4 539.6H1499.6L1494.2 545V530A5 5 0 0 1 1499.2 525Z" stroke="#131722" stroke-width="1.3" fill="none" stroke-linecap="round" stroke-linejoin="round"/>
<path d="M1518.2 583.7H1519.4A3 3 0 0 1 1522.4 586.7V602.2L1518.6 598.3H1511.5A2.6 2.6 0 0 1 1508.9 595.7V593" stroke="#131722" stroke-width="1.3" fill="none" stroke-linecap="round" stroke-linejoin="round"/>
<path d="M1497.5 574H1515.2A3 3 0 0 1 1518.2 577V590A3 3 0 0 1 1515.2 593H1499.2L1494.5 599.2V577A3 3 0 0 1 1497.5 574ZM1499.2 581H1512.8M1499.2 585.7H1509.7" stroke="#131722" stroke-width="1.3" fill="none" stroke-linecap="round" stroke-linejoin="round"/>
<path d="M1503.6 648.5A10.7 10.7 0 1 1 1514.0 648.5V655.8H1503.6Z M1503.6 651.1999999999999H1514.0M1503.6 653.5H1514.0M1505.8 655.8V656.9A1.3 1.3 0 0 0 1507.1 658.1999999999999H1510.5A1.3 1.3 0 0 0 1511.8 656.9V655.8M1506.0 640.5H1511.6M1508.8 640.5V648.5" stroke="#131722" stroke-width="1.3" fill="none" stroke-linecap="round" stroke-linejoin="round"/>
<path d="M1496 631.5C1493.2 635.5 1493.2 641.5 1496 645.5M1492.5 629.5C1489 634.5 1489 642.5 1492.5 647.5M1521.6 631.5C1524.4 635.5 1524.4 641.5 1521.6 645.5M1525.1 629.5C1528.6 634.5 1528.6 642.5 1525.1 647.5" stroke="#131722" stroke-width="1.2" fill="none" stroke-linecap="round" stroke-linejoin="round"/>
<path d="M1505.9 692.6L1514 697.1L1505.9 701.6Z" stroke="#131722" stroke-width="1.3" fill="none" stroke-linecap="round" stroke-linejoin="round"/>
<path d="M1499.5 690.5C1496.5 695 1496.5 700.5 1499.5 705M1496.5 684C1490 691.5 1490 704 1496.5 711.5M1518.5 690.5C1521.5 695 1521.5 700.5 1518.5 705M1521.5 684C1528 691.5 1528 704 1521.5 711.5" stroke="#131722" stroke-width="1.3" fill="none" stroke-linecap="round" stroke-linejoin="round"/>
<circle cx="1522" cy="684.6" r="8.6" fill="#f7525f"/>
<text x="87.4" y="658.5" font-size="16" fill="#131722" textLength="18.2" lengthAdjust="spacingAndGlyphs">1D</text>
<text x="122.5" y="658.5" font-size="16" fill="#131722" textLength="18.5" lengthAdjust="spacingAndGlyphs">5D</text>
<text x="159.4" y="658.5" font-size="16" fill="#131722" textLength="19.6" lengthAdjust="spacingAndGlyphs">1M</text>
<text x="196.8" y="658.5" font-size="16" fill="#131722" textLength="19.6" lengthAdjust="spacingAndGlyphs">3M</text>
<text x="233.7" y="658.5" font-size="16" fill="#131722" textLength="20.1" lengthAdjust="spacingAndGlyphs">6M</text>
<text x="271" y="658.5" font-size="16" fill="#131722" textLength="29.7" lengthAdjust="spacingAndGlyphs">YTD</text>
<text x="318" y="658.5" font-size="16" fill="#131722" textLength="17.8" lengthAdjust="spacingAndGlyphs">1Y</text>
<text x="353" y="658.5" font-size="16" fill="#131722" textLength="17.5" lengthAdjust="spacingAndGlyphs">5Y</text>
<text x="388" y="658.5" font-size="16" fill="#131722" textLength="20" lengthAdjust="spacingAndGlyphs">All</text>
<rect x="427" y="639.5" width="1" height="26" fill="#e0e3eb"/>
<path d="M449 650.2V646.4A2 2 0 0 1 451 644.4H465.2A2 2 0 0 1 467.2 646.4V657.9A2 2 0 0 1 465.2 659.9H458.2M449 649.3H467.2M453.5 642.3V646.3M462.1 642.3V646.3M447.3 656.4H455.7M452.2 652.3L456.1 656.4L452.2 660.5" stroke="#131722" stroke-width="1.3" fill="none" stroke-linecap="round" stroke-linejoin="round"/>
<text x="1191.5" y="659" font-size="16" fill="#131722" textLength="130" lengthAdjust="spacingAndGlyphs">15:14:29 (UTC+7)</text>
<rect x="1341.2" y="639.5" width="1" height="26" fill="#e0e3eb"/>
<text x="1356.5" y="659" font-size="16" fill="#131722" textLength="15.3" lengthAdjust="spacingAndGlyphs">%</text>
<text x="1390.3" y="659" font-size="16" fill="#131722" textLength="21.8" lengthAdjust="spacingAndGlyphs">log</text>
<text x="1429.3" y="659" font-size="16" fill="#2962ff" textLength="33.6" lengthAdjust="spacingAndGlyphs">auto</text>
<circle cx="1435" cy="611.5" r="5" stroke="#131722" stroke-width="1.3" fill="none"/>
<path d="M1441.30 611.50L1443.30 611.50M1439.45 615.95L1440.87 617.37M1435.00 617.80L1435.00 619.80M1430.55 615.95L1429.13 617.37M1428.70 611.50L1426.70 611.50M1430.55 607.05L1429.13 605.63M1435.00 605.20L1435.00 603.20M1439.45 607.05L1440.87 605.63" stroke="#131722" stroke-width="1.3" fill="none" stroke-linecap="round" stroke-linejoin="round"/>
<text x="86.3" y="709.5" font-size="16.5" fill="#131722" textLength="162" lengthAdjust="spacingAndGlyphs">Crypto Pairs Screener</text>
<path d="M263 701.5L267.5 706L272 701.5" stroke="#131722" stroke-width="1.3" fill="none" stroke-linecap="round" stroke-linejoin="round"/>
<text x="302" y="709.5" font-size="16.5" fill="#131722" textLength="81.7" lengthAdjust="spacingAndGlyphs">Pine Editor</text>
<text x="422.7" y="709.5" font-size="16.5" fill="#131722" textLength="113.3" lengthAdjust="spacingAndGlyphs">Strategy Tester</text>
<text x="574.7" y="709.5" font-size="16.5" fill="#131722" textLength="102.3" lengthAdjust="spacingAndGlyphs">Paper Trading</text>
<circle cx="685.2" cy="703.3" r="3.6" fill="#66bb6a"/>
<path d="M1397.5 705.6L1407.8 697L1418 705.6" stroke="#131722" stroke-width="1.4" fill="none" stroke-linecap="round" stroke-linejoin="round"/>
<path d="M1441.8 698.4V694.3H1445.9M1456.9 694.3H1461V698.4M1461 707.8V711.9H1456.9M1445.9 711.9H1441.8V707.8" stroke="#131722" stroke-width="1.4" fill="none" stroke-linecap="round" stroke-linejoin="round"/>
<path d="M82.8 562.8H94.2V576H88.7V567.8H82.8Z" fill="#131722"/>
<circle cx="97.3" cy="564.8" r="2.3" fill="#131722"/>
<path d="M100.3 562.8H108.5L102.8 576H96.8Z" fill="#131722"/>
<text x="115.5" y="573.3" font-size="13.2" fill="#2f323b" textLength="76.8" lengthAdjust="spacingAndGlyphs">TradingView</text>
</svg>
</body></html>
